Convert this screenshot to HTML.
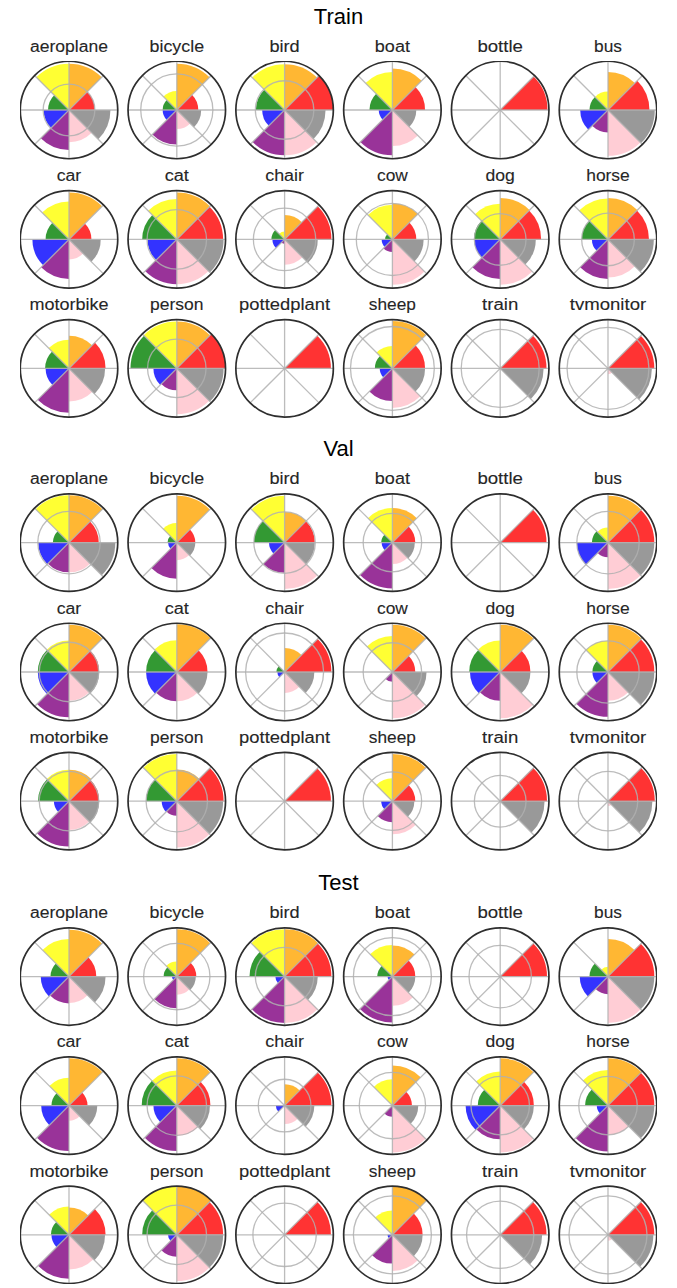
<!DOCTYPE html><html><head><meta charset="utf-8"><style>html,body{margin:0;padding:0;background:#fff;overflow:hidden;}svg{display:block;}text{font-family:"Liberation Sans",sans-serif;}</style></head><body>
<svg width="677" height="1288" viewBox="0 0 677 1288">
<defs><filter id="b" x="0" y="0" width="100%" height="100%"><feGaussianBlur stdDeviation="0.4"/></filter></defs>
<rect width="677" height="1288" fill="#fff"/>
<g filter="url(#b)">
<path d="M69.00,110.00L94.84,110.00A25.84,25.84 0 0 0 87.27,91.73Z" fill="red" fill-opacity="0.8"/><path d="M69.00,110.00L101.75,77.25A46.31,46.31 0 0 0 69.00,63.69Z" fill="orange" fill-opacity="0.8"/><path d="M69.00,110.00L69.00,63.69A46.31,46.31 0 0 0 36.25,77.25Z" fill="yellow" fill-opacity="0.8"/><path d="M69.00,110.00L54.18,95.18A20.96,20.96 0 0 0 48.04,110.00Z" fill="green" fill-opacity="0.8"/><path d="M69.00,110.00L43.65,110.00A25.35,25.35 0 0 0 51.07,127.93Z" fill="blue" fill-opacity="0.8"/><path d="M69.00,110.00L40.73,138.27A39.97,39.97 0 0 0 69.00,149.97Z" fill="purple" fill-opacity="0.8"/><path d="M69.00,110.00L69.00,142.18A32.18,32.18 0 0 0 91.75,132.75Z" fill="pink" fill-opacity="0.8"/><path d="M69.00,110.00L98.30,139.30A41.44,41.44 0 0 0 110.44,110.00Z" fill="gray" fill-opacity="0.8"/><circle cx="69.00" cy="110.00" r="25.84" fill="none" stroke="#b0b0b0" stroke-width="1.3" stroke-opacity="0.85"/><line x1="20.25" y1="110.00" x2="117.75" y2="110.00" stroke="#b0b0b0" stroke-width="1.3" stroke-opacity="0.85"/><line x1="34.53" y1="144.47" x2="103.47" y2="75.53" stroke="#b0b0b0" stroke-width="1.3" stroke-opacity="0.85"/><line x1="69.00" y1="158.75" x2="69.00" y2="61.25" stroke="#b0b0b0" stroke-width="1.3" stroke-opacity="0.85"/><line x1="103.47" y1="144.47" x2="34.53" y2="75.53" stroke="#b0b0b0" stroke-width="1.3" stroke-opacity="0.85"/><circle cx="69.00" cy="110.00" r="48.75" fill="none" stroke="#2e2e2e" stroke-width="1.7"/>
<path d="M176.80,110.00L198.25,110.00A21.45,21.45 0 0 0 191.97,94.83Z" fill="red" fill-opacity="0.8"/><path d="M176.80,110.00L209.55,77.25A46.31,46.31 0 0 0 176.80,63.69Z" fill="orange" fill-opacity="0.8"/><path d="M176.80,110.00L176.80,90.99A19.01,19.01 0 0 0 163.36,96.56Z" fill="yellow" fill-opacity="0.8"/><path d="M176.80,110.00L166.80,100.00A14.14,14.14 0 0 0 162.66,110.00Z" fill="green" fill-opacity="0.8"/><path d="M176.80,110.00L162.66,110.00A14.14,14.14 0 0 0 166.80,120.00Z" fill="blue" fill-opacity="0.8"/><path d="M176.80,110.00L152.33,134.47A34.61,34.61 0 0 0 176.80,144.61Z" fill="purple" fill-opacity="0.8"/><path d="M176.80,110.00L176.80,129.01A19.01,19.01 0 0 0 190.24,123.44Z" fill="pink" fill-opacity="0.8"/><path d="M176.80,110.00L194.04,127.24A24.38,24.38 0 0 0 201.18,110.00Z" fill="gray" fill-opacity="0.8"/><circle cx="176.80" cy="110.00" r="36.08" fill="none" stroke="#b0b0b0" stroke-width="1.3" stroke-opacity="0.85"/><line x1="128.05" y1="110.00" x2="225.55" y2="110.00" stroke="#b0b0b0" stroke-width="1.3" stroke-opacity="0.85"/><line x1="142.33" y1="144.47" x2="211.27" y2="75.53" stroke="#b0b0b0" stroke-width="1.3" stroke-opacity="0.85"/><line x1="176.80" y1="158.75" x2="176.80" y2="61.25" stroke="#b0b0b0" stroke-width="1.3" stroke-opacity="0.85"/><line x1="211.27" y1="144.47" x2="142.33" y2="75.53" stroke="#b0b0b0" stroke-width="1.3" stroke-opacity="0.85"/><circle cx="176.80" cy="110.00" r="48.75" fill="none" stroke="#2e2e2e" stroke-width="1.7"/>
<path d="M284.60,110.00L333.35,110.00A48.75,48.75 0 0 0 319.07,75.53Z" fill="red" fill-opacity="0.8"/><path d="M284.60,110.00L317.00,77.60A45.82,45.82 0 0 0 284.60,64.18Z" fill="orange" fill-opacity="0.8"/><path d="M284.60,110.00L284.60,64.18A45.82,45.82 0 0 0 252.20,77.60Z" fill="yellow" fill-opacity="0.8"/><path d="M284.60,110.00L264.26,89.66A28.76,28.76 0 0 0 255.84,110.00Z" fill="green" fill-opacity="0.8"/><path d="M284.60,110.00L262.18,110.00A22.43,22.43 0 0 0 268.74,125.86Z" fill="blue" fill-opacity="0.8"/><path d="M284.60,110.00L252.54,142.06A45.34,45.34 0 0 0 284.60,155.34Z" fill="purple" fill-opacity="0.8"/><path d="M284.60,110.00L284.60,155.34A45.34,45.34 0 0 0 316.66,142.06Z" fill="pink" fill-opacity="0.8"/><path d="M284.60,110.00L313.56,138.96A40.95,40.95 0 0 0 325.55,110.00Z" fill="gray" fill-opacity="0.8"/><circle cx="284.60" cy="110.00" r="29.25" fill="none" stroke="#b0b0b0" stroke-width="1.3" stroke-opacity="0.85"/><line x1="235.85" y1="110.00" x2="333.35" y2="110.00" stroke="#b0b0b0" stroke-width="1.3" stroke-opacity="0.85"/><line x1="250.13" y1="144.47" x2="319.07" y2="75.53" stroke="#b0b0b0" stroke-width="1.3" stroke-opacity="0.85"/><line x1="284.60" y1="158.75" x2="284.60" y2="61.25" stroke="#b0b0b0" stroke-width="1.3" stroke-opacity="0.85"/><line x1="319.07" y1="144.47" x2="250.13" y2="75.53" stroke="#b0b0b0" stroke-width="1.3" stroke-opacity="0.85"/><circle cx="284.60" cy="110.00" r="48.75" fill="none" stroke="#2e2e2e" stroke-width="1.7"/>
<path d="M392.40,110.00L425.06,110.00A32.66,32.66 0 0 0 415.50,86.90Z" fill="red" fill-opacity="0.8"/><path d="M392.40,110.00L421.70,80.70A41.44,41.44 0 0 0 392.40,68.56Z" fill="orange" fill-opacity="0.8"/><path d="M392.40,110.00L392.40,71.97A38.02,38.02 0 0 0 365.51,83.11Z" fill="yellow" fill-opacity="0.8"/><path d="M392.40,110.00L376.20,93.80A22.91,22.91 0 0 0 369.49,110.00Z" fill="green" fill-opacity="0.8"/><path d="M392.40,110.00L378.75,110.00A13.65,13.65 0 0 0 382.75,119.65Z" fill="blue" fill-opacity="0.8"/><path d="M392.40,110.00L360.34,142.06A45.34,45.34 0 0 0 392.40,155.34Z" fill="purple" fill-opacity="0.8"/><path d="M392.40,110.00L392.40,146.07A36.08,36.08 0 0 0 417.91,135.51Z" fill="pink" fill-opacity="0.8"/><path d="M392.40,110.00L409.29,126.89A23.89,23.89 0 0 0 416.29,110.00Z" fill="gray" fill-opacity="0.8"/><line x1="343.65" y1="110.00" x2="441.15" y2="110.00" stroke="#b0b0b0" stroke-width="1.3" stroke-opacity="0.85"/><line x1="357.93" y1="144.47" x2="426.87" y2="75.53" stroke="#b0b0b0" stroke-width="1.3" stroke-opacity="0.85"/><line x1="392.40" y1="158.75" x2="392.40" y2="61.25" stroke="#b0b0b0" stroke-width="1.3" stroke-opacity="0.85"/><line x1="426.87" y1="144.47" x2="357.93" y2="75.53" stroke="#b0b0b0" stroke-width="1.3" stroke-opacity="0.85"/><circle cx="392.40" cy="110.00" r="48.75" fill="none" stroke="#2e2e2e" stroke-width="1.7"/>
<path d="M500.20,110.00L547.49,110.00A47.29,47.29 0 0 0 533.64,76.56Z" fill="red" fill-opacity="0.8"/><line x1="451.45" y1="110.00" x2="548.95" y2="110.00" stroke="#b0b0b0" stroke-width="1.3" stroke-opacity="0.85"/><line x1="465.73" y1="144.47" x2="534.67" y2="75.53" stroke="#b0b0b0" stroke-width="1.3" stroke-opacity="0.85"/><line x1="500.20" y1="158.75" x2="500.20" y2="61.25" stroke="#b0b0b0" stroke-width="1.3" stroke-opacity="0.85"/><line x1="534.67" y1="144.47" x2="465.73" y2="75.53" stroke="#b0b0b0" stroke-width="1.3" stroke-opacity="0.85"/><circle cx="500.20" cy="110.00" r="48.75" fill="none" stroke="#2e2e2e" stroke-width="1.7"/>
<path d="M608.00,110.00L649.44,110.00A41.44,41.44 0 0 0 637.30,80.70Z" fill="red" fill-opacity="0.8"/><path d="M608.00,110.00L634.89,83.11A38.02,38.02 0 0 0 608.00,71.97Z" fill="orange" fill-opacity="0.8"/><path d="M608.00,110.00L608.00,91.47A18.52,18.52 0 0 0 594.90,96.90Z" fill="yellow" fill-opacity="0.8"/><path d="M608.00,110.00L594.90,96.90A18.52,18.52 0 0 0 589.48,110.00Z" fill="green" fill-opacity="0.8"/><path d="M608.00,110.00L580.21,110.00A27.79,27.79 0 0 0 588.35,129.65Z" fill="blue" fill-opacity="0.8"/><path d="M608.00,110.00L592.14,125.86A22.43,22.43 0 0 0 608.00,132.43Z" fill="purple" fill-opacity="0.8"/><path d="M608.00,110.00L608.00,155.82A45.82,45.82 0 0 0 640.40,142.40Z" fill="pink" fill-opacity="0.8"/><path d="M608.00,110.00L641.09,143.09A46.80,46.80 0 0 0 654.80,110.00Z" fill="gray" fill-opacity="0.8"/><line x1="559.25" y1="110.00" x2="656.75" y2="110.00" stroke="#b0b0b0" stroke-width="1.3" stroke-opacity="0.85"/><line x1="573.53" y1="144.47" x2="642.47" y2="75.53" stroke="#b0b0b0" stroke-width="1.3" stroke-opacity="0.85"/><line x1="608.00" y1="158.75" x2="608.00" y2="61.25" stroke="#b0b0b0" stroke-width="1.3" stroke-opacity="0.85"/><line x1="642.47" y1="144.47" x2="573.53" y2="75.53" stroke="#b0b0b0" stroke-width="1.3" stroke-opacity="0.85"/><circle cx="608.00" cy="110.00" r="48.75" fill="none" stroke="#2e2e2e" stroke-width="1.7"/>
<path d="M69.00,239.40L91.42,239.40A22.43,22.43 0 0 0 84.86,223.54Z" fill="red" fill-opacity="0.8"/><path d="M69.00,239.40L102.09,206.31A46.80,46.80 0 0 0 69.00,192.60Z" fill="orange" fill-opacity="0.8"/><path d="M69.00,239.40L69.00,201.38A38.02,38.02 0 0 0 42.11,212.51Z" fill="yellow" fill-opacity="0.8"/><path d="M69.00,239.40L52.45,222.85A23.40,23.40 0 0 0 45.60,239.40Z" fill="green" fill-opacity="0.8"/><path d="M69.00,239.40L32.44,239.40A36.56,36.56 0 0 0 43.15,265.25Z" fill="blue" fill-opacity="0.8"/><path d="M69.00,239.40L41.08,267.32A39.49,39.49 0 0 0 69.00,278.89Z" fill="purple" fill-opacity="0.8"/><path d="M69.00,239.40L69.00,259.39A19.99,19.99 0 0 0 83.13,253.53Z" fill="pink" fill-opacity="0.8"/><path d="M69.00,239.40L91.41,261.81A31.69,31.69 0 0 0 100.69,239.40Z" fill="gray" fill-opacity="0.8"/><line x1="20.25" y1="239.40" x2="117.75" y2="239.40" stroke="#b0b0b0" stroke-width="1.3" stroke-opacity="0.85"/><line x1="34.53" y1="273.87" x2="103.47" y2="204.93" stroke="#b0b0b0" stroke-width="1.3" stroke-opacity="0.85"/><line x1="69.00" y1="288.15" x2="69.00" y2="190.65" stroke="#b0b0b0" stroke-width="1.3" stroke-opacity="0.85"/><line x1="103.47" y1="273.87" x2="34.53" y2="204.93" stroke="#b0b0b0" stroke-width="1.3" stroke-opacity="0.85"/><circle cx="69.00" cy="239.40" r="48.75" fill="none" stroke="#2e2e2e" stroke-width="1.7"/>
<path d="M176.80,239.40L223.11,239.40A46.31,46.31 0 0 0 209.55,206.65Z" fill="red" fill-opacity="0.8"/><path d="M176.80,239.40L209.89,206.31A46.80,46.80 0 0 0 176.80,192.60Z" fill="orange" fill-opacity="0.8"/><path d="M176.80,239.40L176.80,198.94A40.46,40.46 0 0 0 148.19,210.79Z" fill="yellow" fill-opacity="0.8"/><path d="M176.80,239.40L152.33,214.93A34.61,34.61 0 0 0 142.19,239.40Z" fill="green" fill-opacity="0.8"/><path d="M176.80,239.40L147.55,239.40A29.25,29.25 0 0 0 156.12,260.08Z" fill="blue" fill-opacity="0.8"/><path d="M176.80,239.40L145.09,271.11A44.85,44.85 0 0 0 176.80,284.25Z" fill="purple" fill-opacity="0.8"/><path d="M176.80,239.40L176.80,284.25A44.85,44.85 0 0 0 208.51,271.11Z" fill="pink" fill-opacity="0.8"/><path d="M176.80,239.40L209.89,272.49A46.80,46.80 0 0 0 223.60,239.40Z" fill="gray" fill-opacity="0.8"/><circle cx="176.80" cy="239.40" r="29.74" fill="none" stroke="#b0b0b0" stroke-width="1.3" stroke-opacity="0.85"/><line x1="128.05" y1="239.40" x2="225.55" y2="239.40" stroke="#b0b0b0" stroke-width="1.3" stroke-opacity="0.85"/><line x1="142.33" y1="273.87" x2="211.27" y2="204.93" stroke="#b0b0b0" stroke-width="1.3" stroke-opacity="0.85"/><line x1="176.80" y1="288.15" x2="176.80" y2="190.65" stroke="#b0b0b0" stroke-width="1.3" stroke-opacity="0.85"/><line x1="211.27" y1="273.87" x2="142.33" y2="204.93" stroke="#b0b0b0" stroke-width="1.3" stroke-opacity="0.85"/><circle cx="176.80" cy="239.40" r="48.75" fill="none" stroke="#2e2e2e" stroke-width="1.7"/>
<path d="M284.60,239.40L331.40,239.40A46.80,46.80 0 0 0 317.69,206.31Z" fill="red" fill-opacity="0.8"/><path d="M284.60,239.40L301.84,222.16A24.38,24.38 0 0 0 284.60,215.03Z" fill="orange" fill-opacity="0.8"/><path d="M284.60,239.40L284.60,231.60A7.80,7.80 0 0 0 279.08,233.88Z" fill="yellow" fill-opacity="0.8"/><path d="M284.60,239.40L275.29,230.09A13.16,13.16 0 0 0 271.44,239.40Z" fill="green" fill-opacity="0.8"/><path d="M284.60,239.40L272.41,239.40A12.19,12.19 0 0 0 275.98,248.02Z" fill="blue" fill-opacity="0.8"/><path d="M284.60,239.40L281.50,242.50A4.39,4.39 0 0 0 284.60,243.79Z" fill="purple" fill-opacity="0.8"/><path d="M284.60,239.40L284.60,264.75A25.35,25.35 0 0 0 302.53,257.33Z" fill="pink" fill-opacity="0.8"/><path d="M284.60,239.40L308.04,262.84A33.15,33.15 0 0 0 317.75,239.40Z" fill="gray" fill-opacity="0.8"/><circle cx="284.60" cy="239.40" r="31.20" fill="none" stroke="#b0b0b0" stroke-width="1.3" stroke-opacity="0.85"/><line x1="235.85" y1="239.40" x2="333.35" y2="239.40" stroke="#b0b0b0" stroke-width="1.3" stroke-opacity="0.85"/><line x1="250.13" y1="273.87" x2="319.07" y2="204.93" stroke="#b0b0b0" stroke-width="1.3" stroke-opacity="0.85"/><line x1="284.60" y1="288.15" x2="284.60" y2="190.65" stroke="#b0b0b0" stroke-width="1.3" stroke-opacity="0.85"/><line x1="319.07" y1="273.87" x2="250.13" y2="204.93" stroke="#b0b0b0" stroke-width="1.3" stroke-opacity="0.85"/><circle cx="284.60" cy="239.40" r="48.75" fill="none" stroke="#2e2e2e" stroke-width="1.7"/>
<path d="M392.40,239.40L416.29,239.40A23.89,23.89 0 0 0 409.29,222.51Z" fill="red" fill-opacity="0.8"/><path d="M392.40,239.40L417.91,213.89A36.08,36.08 0 0 0 392.40,203.32Z" fill="orange" fill-opacity="0.8"/><path d="M392.40,239.40L392.40,204.79A34.61,34.61 0 0 0 367.93,214.93Z" fill="yellow" fill-opacity="0.8"/><path d="M392.40,239.40L387.23,234.23A7.31,7.31 0 0 0 385.09,239.40Z" fill="green" fill-opacity="0.8"/><path d="M392.40,239.40L381.67,239.40A10.72,10.72 0 0 0 384.82,246.98Z" fill="blue" fill-opacity="0.8"/><path d="M392.40,239.40L383.44,248.36A12.68,12.68 0 0 0 392.40,252.08Z" fill="purple" fill-opacity="0.8"/><path d="M392.40,239.40L392.40,284.74A45.34,45.34 0 0 0 424.46,271.46Z" fill="pink" fill-opacity="0.8"/><path d="M392.40,239.40L414.46,261.46A31.20,31.20 0 0 0 423.60,239.40Z" fill="gray" fill-opacity="0.8"/><circle cx="392.40" cy="239.40" r="36.08" fill="none" stroke="#b0b0b0" stroke-width="1.3" stroke-opacity="0.85"/><line x1="343.65" y1="239.40" x2="441.15" y2="239.40" stroke="#b0b0b0" stroke-width="1.3" stroke-opacity="0.85"/><line x1="357.93" y1="273.87" x2="426.87" y2="204.93" stroke="#b0b0b0" stroke-width="1.3" stroke-opacity="0.85"/><line x1="392.40" y1="288.15" x2="392.40" y2="190.65" stroke="#b0b0b0" stroke-width="1.3" stroke-opacity="0.85"/><line x1="426.87" y1="273.87" x2="357.93" y2="204.93" stroke="#b0b0b0" stroke-width="1.3" stroke-opacity="0.85"/><circle cx="392.40" cy="239.40" r="48.75" fill="none" stroke="#2e2e2e" stroke-width="1.7"/>
<path d="M500.20,239.40L541.15,239.40A40.95,40.95 0 0 0 529.16,210.44Z" fill="red" fill-opacity="0.8"/><path d="M500.20,239.40L529.50,210.10A41.44,41.44 0 0 0 500.20,197.96Z" fill="orange" fill-opacity="0.8"/><path d="M500.20,239.40L500.20,203.81A35.59,35.59 0 0 0 475.04,214.24Z" fill="yellow" fill-opacity="0.8"/><path d="M500.20,239.40L481.59,220.79A26.33,26.33 0 0 0 473.88,239.40Z" fill="green" fill-opacity="0.8"/><path d="M500.20,239.40L474.36,239.40A25.84,25.84 0 0 0 481.93,257.67Z" fill="blue" fill-opacity="0.8"/><path d="M500.20,239.40L472.28,267.32A39.49,39.49 0 0 0 500.20,278.89Z" fill="purple" fill-opacity="0.8"/><path d="M500.20,239.40L500.20,284.74A45.34,45.34 0 0 0 532.26,271.46Z" fill="pink" fill-opacity="0.8"/><path d="M500.20,239.40L525.36,264.56A35.59,35.59 0 0 0 535.79,239.40Z" fill="gray" fill-opacity="0.8"/><circle cx="500.20" cy="239.40" r="25.84" fill="none" stroke="#b0b0b0" stroke-width="1.3" stroke-opacity="0.85"/><line x1="451.45" y1="239.40" x2="548.95" y2="239.40" stroke="#b0b0b0" stroke-width="1.3" stroke-opacity="0.85"/><line x1="465.73" y1="273.87" x2="534.67" y2="204.93" stroke="#b0b0b0" stroke-width="1.3" stroke-opacity="0.85"/><line x1="500.20" y1="288.15" x2="500.20" y2="190.65" stroke="#b0b0b0" stroke-width="1.3" stroke-opacity="0.85"/><line x1="534.67" y1="273.87" x2="465.73" y2="204.93" stroke="#b0b0b0" stroke-width="1.3" stroke-opacity="0.85"/><circle cx="500.20" cy="239.40" r="48.75" fill="none" stroke="#2e2e2e" stroke-width="1.7"/>
<path d="M608.00,239.40L648.95,239.40A40.95,40.95 0 0 0 636.96,210.44Z" fill="red" fill-opacity="0.8"/><path d="M608.00,239.40L637.30,210.10A41.44,41.44 0 0 0 608.00,197.96Z" fill="orange" fill-opacity="0.8"/><path d="M608.00,239.40L608.00,198.45A40.95,40.95 0 0 0 579.04,210.44Z" fill="yellow" fill-opacity="0.8"/><path d="M608.00,239.40L589.39,220.79A26.33,26.33 0 0 0 581.67,239.40Z" fill="green" fill-opacity="0.8"/><path d="M608.00,239.40L591.91,239.40A16.09,16.09 0 0 0 596.62,250.78Z" fill="blue" fill-opacity="0.8"/><path d="M608.00,239.40L580.08,267.32A39.49,39.49 0 0 0 608.00,278.89Z" fill="purple" fill-opacity="0.8"/><path d="M608.00,239.40L608.00,277.43A38.02,38.02 0 0 0 634.89,266.29Z" fill="pink" fill-opacity="0.8"/><path d="M608.00,239.40L640.40,271.80A45.82,45.82 0 0 0 653.83,239.40Z" fill="gray" fill-opacity="0.8"/><circle cx="608.00" cy="239.40" r="26.33" fill="none" stroke="#b0b0b0" stroke-width="1.3" stroke-opacity="0.85"/><line x1="559.25" y1="239.40" x2="656.75" y2="239.40" stroke="#b0b0b0" stroke-width="1.3" stroke-opacity="0.85"/><line x1="573.53" y1="273.87" x2="642.47" y2="204.93" stroke="#b0b0b0" stroke-width="1.3" stroke-opacity="0.85"/><line x1="608.00" y1="288.15" x2="608.00" y2="190.65" stroke="#b0b0b0" stroke-width="1.3" stroke-opacity="0.85"/><line x1="642.47" y1="273.87" x2="573.53" y2="204.93" stroke="#b0b0b0" stroke-width="1.3" stroke-opacity="0.85"/><circle cx="608.00" cy="239.40" r="48.75" fill="none" stroke="#2e2e2e" stroke-width="1.7"/>
<path d="M69.00,368.40L105.56,368.40A36.56,36.56 0 0 0 94.85,342.55Z" fill="red" fill-opacity="0.8"/><path d="M69.00,368.40L92.10,345.30A32.66,32.66 0 0 0 69.00,335.74Z" fill="orange" fill-opacity="0.8"/><path d="M69.00,368.40L69.00,339.64A28.76,28.76 0 0 0 48.66,348.06Z" fill="yellow" fill-opacity="0.8"/><path d="M69.00,368.40L52.11,351.51A23.89,23.89 0 0 0 45.11,368.40Z" fill="green" fill-opacity="0.8"/><path d="M69.00,368.40L45.60,368.40A23.40,23.40 0 0 0 52.45,384.95Z" fill="blue" fill-opacity="0.8"/><path d="M69.00,368.40L37.63,399.77A44.36,44.36 0 0 0 69.00,412.76Z" fill="purple" fill-opacity="0.8"/><path d="M69.00,368.40L69.00,401.55A33.15,33.15 0 0 0 92.44,391.84Z" fill="pink" fill-opacity="0.8"/><path d="M69.00,368.40L94.51,393.91A36.08,36.08 0 0 0 105.08,368.40Z" fill="gray" fill-opacity="0.8"/><line x1="20.25" y1="368.40" x2="117.75" y2="368.40" stroke="#b0b0b0" stroke-width="1.3" stroke-opacity="0.85"/><line x1="34.53" y1="402.87" x2="103.47" y2="333.93" stroke="#b0b0b0" stroke-width="1.3" stroke-opacity="0.85"/><line x1="69.00" y1="417.15" x2="69.00" y2="319.65" stroke="#b0b0b0" stroke-width="1.3" stroke-opacity="0.85"/><line x1="103.47" y1="402.87" x2="34.53" y2="333.93" stroke="#b0b0b0" stroke-width="1.3" stroke-opacity="0.85"/><circle cx="69.00" cy="368.40" r="48.75" fill="none" stroke="#2e2e2e" stroke-width="1.7"/>
<path d="M176.80,368.40L225.55,368.40A48.75,48.75 0 0 0 211.27,333.93Z" fill="red" fill-opacity="0.8"/><path d="M176.80,368.40L209.89,335.31A46.80,46.80 0 0 0 176.80,321.60Z" fill="orange" fill-opacity="0.8"/><path d="M176.80,368.40L176.80,321.60A46.80,46.80 0 0 0 143.71,335.31Z" fill="yellow" fill-opacity="0.8"/><path d="M176.80,368.40L144.05,335.65A46.31,46.31 0 0 0 130.49,368.40Z" fill="green" fill-opacity="0.8"/><path d="M176.80,368.40L153.40,368.40A23.40,23.40 0 0 0 160.25,384.95Z" fill="blue" fill-opacity="0.8"/><path d="M176.80,368.40L161.29,383.91A21.94,21.94 0 0 0 176.80,390.34Z" fill="purple" fill-opacity="0.8"/><path d="M176.80,368.40L176.80,414.22A45.82,45.82 0 0 0 209.20,400.80Z" fill="pink" fill-opacity="0.8"/><path d="M176.80,368.40L209.89,401.49A46.80,46.80 0 0 0 223.60,368.40Z" fill="gray" fill-opacity="0.8"/><circle cx="176.80" cy="368.40" r="29.25" fill="none" stroke="#b0b0b0" stroke-width="1.3" stroke-opacity="0.85"/><line x1="128.05" y1="368.40" x2="225.55" y2="368.40" stroke="#b0b0b0" stroke-width="1.3" stroke-opacity="0.85"/><line x1="142.33" y1="402.87" x2="211.27" y2="333.93" stroke="#b0b0b0" stroke-width="1.3" stroke-opacity="0.85"/><line x1="176.80" y1="417.15" x2="176.80" y2="319.65" stroke="#b0b0b0" stroke-width="1.3" stroke-opacity="0.85"/><line x1="211.27" y1="402.87" x2="142.33" y2="333.93" stroke="#b0b0b0" stroke-width="1.3" stroke-opacity="0.85"/><circle cx="176.80" cy="368.40" r="48.75" fill="none" stroke="#2e2e2e" stroke-width="1.7"/>
<path d="M284.60,368.40L330.91,368.40A46.31,46.31 0 0 0 317.35,335.65Z" fill="red" fill-opacity="0.8"/><line x1="235.85" y1="368.40" x2="333.35" y2="368.40" stroke="#b0b0b0" stroke-width="1.3" stroke-opacity="0.85"/><line x1="250.13" y1="402.87" x2="319.07" y2="333.93" stroke="#b0b0b0" stroke-width="1.3" stroke-opacity="0.85"/><line x1="284.60" y1="417.15" x2="284.60" y2="319.65" stroke="#b0b0b0" stroke-width="1.3" stroke-opacity="0.85"/><line x1="319.07" y1="402.87" x2="250.13" y2="333.93" stroke="#b0b0b0" stroke-width="1.3" stroke-opacity="0.85"/><circle cx="284.60" cy="368.40" r="48.75" fill="none" stroke="#2e2e2e" stroke-width="1.7"/>
<path d="M392.40,368.40L425.06,368.40A32.66,32.66 0 0 0 415.50,345.30Z" fill="red" fill-opacity="0.8"/><path d="M392.40,368.40L425.84,334.96A47.29,47.29 0 0 0 392.40,321.11Z" fill="orange" fill-opacity="0.8"/><path d="M392.40,368.40L392.40,345.97A22.43,22.43 0 0 0 376.54,352.54Z" fill="yellow" fill-opacity="0.8"/><path d="M392.40,368.40L379.99,355.99A17.55,17.55 0 0 0 374.85,368.40Z" fill="green" fill-opacity="0.8"/><path d="M392.40,368.40L379.72,368.40A12.68,12.68 0 0 0 383.44,377.36Z" fill="blue" fill-opacity="0.8"/><path d="M392.40,368.40L369.30,391.50A32.66,32.66 0 0 0 392.40,401.06Z" fill="purple" fill-opacity="0.8"/><path d="M392.40,368.40L392.40,407.89A39.49,39.49 0 0 0 420.32,396.32Z" fill="pink" fill-opacity="0.8"/><path d="M392.40,368.40L415.50,391.50A32.66,32.66 0 0 0 425.06,368.40Z" fill="gray" fill-opacity="0.8"/><circle cx="392.40" cy="368.40" r="41.92" fill="none" stroke="#b0b0b0" stroke-width="1.3" stroke-opacity="0.85"/><line x1="343.65" y1="368.40" x2="441.15" y2="368.40" stroke="#b0b0b0" stroke-width="1.3" stroke-opacity="0.85"/><line x1="357.93" y1="402.87" x2="426.87" y2="333.93" stroke="#b0b0b0" stroke-width="1.3" stroke-opacity="0.85"/><line x1="392.40" y1="417.15" x2="392.40" y2="319.65" stroke="#b0b0b0" stroke-width="1.3" stroke-opacity="0.85"/><line x1="426.87" y1="402.87" x2="357.93" y2="333.93" stroke="#b0b0b0" stroke-width="1.3" stroke-opacity="0.85"/><circle cx="392.40" cy="368.40" r="48.75" fill="none" stroke="#2e2e2e" stroke-width="1.7"/>
<path d="M500.20,368.40L546.51,368.40A46.31,46.31 0 0 0 532.95,335.65Z" fill="red" fill-opacity="0.8"/><path d="M500.20,368.40L501.58,367.02A1.95,1.95 0 0 0 500.20,366.45Z" fill="orange" fill-opacity="0.8"/><path d="M500.20,368.40L530.88,399.08A43.39,43.39 0 0 0 543.59,368.40Z" fill="gray" fill-opacity="0.8"/><circle cx="500.20" cy="368.40" r="39.00" fill="none" stroke="#b0b0b0" stroke-width="1.3" stroke-opacity="0.85"/><line x1="451.45" y1="368.40" x2="548.95" y2="368.40" stroke="#b0b0b0" stroke-width="1.3" stroke-opacity="0.85"/><line x1="465.73" y1="402.87" x2="534.67" y2="333.93" stroke="#b0b0b0" stroke-width="1.3" stroke-opacity="0.85"/><line x1="500.20" y1="417.15" x2="500.20" y2="319.65" stroke="#b0b0b0" stroke-width="1.3" stroke-opacity="0.85"/><line x1="534.67" y1="402.87" x2="465.73" y2="333.93" stroke="#b0b0b0" stroke-width="1.3" stroke-opacity="0.85"/><circle cx="500.20" cy="368.40" r="48.75" fill="none" stroke="#2e2e2e" stroke-width="1.7"/>
<path d="M608.00,368.40L654.31,368.40A46.31,46.31 0 0 0 640.75,335.65Z" fill="red" fill-opacity="0.8"/><path d="M608.00,368.40L608.00,374.25A5.85,5.85 0 0 0 612.14,372.54Z" fill="pink" fill-opacity="0.8"/><path d="M608.00,368.40L639.02,399.42A43.88,43.88 0 0 0 651.88,368.40Z" fill="gray" fill-opacity="0.8"/><circle cx="608.00" cy="368.40" r="40.95" fill="none" stroke="#b0b0b0" stroke-width="1.3" stroke-opacity="0.85"/><line x1="559.25" y1="368.40" x2="656.75" y2="368.40" stroke="#b0b0b0" stroke-width="1.3" stroke-opacity="0.85"/><line x1="573.53" y1="402.87" x2="642.47" y2="333.93" stroke="#b0b0b0" stroke-width="1.3" stroke-opacity="0.85"/><line x1="608.00" y1="417.15" x2="608.00" y2="319.65" stroke="#b0b0b0" stroke-width="1.3" stroke-opacity="0.85"/><line x1="642.47" y1="402.87" x2="573.53" y2="333.93" stroke="#b0b0b0" stroke-width="1.3" stroke-opacity="0.85"/><circle cx="608.00" cy="368.40" r="48.75" fill="none" stroke="#2e2e2e" stroke-width="1.7"/>
<path d="M69.00,542.60L98.74,542.60A29.74,29.74 0 0 0 90.03,521.57Z" fill="red" fill-opacity="0.8"/><path d="M69.00,542.60L102.44,509.16A47.29,47.29 0 0 0 69.00,495.31Z" fill="orange" fill-opacity="0.8"/><path d="M69.00,542.60L69.00,495.31A47.29,47.29 0 0 0 35.56,509.16Z" fill="yellow" fill-opacity="0.8"/><path d="M69.00,542.60L57.62,531.22A16.09,16.09 0 0 0 52.91,542.60Z" fill="green" fill-opacity="0.8"/><path d="M69.00,542.60L38.29,542.60A30.71,30.71 0 0 0 47.28,564.32Z" fill="blue" fill-opacity="0.8"/><path d="M69.00,542.60L47.97,563.63A29.74,29.74 0 0 0 69.00,572.34Z" fill="purple" fill-opacity="0.8"/><path d="M69.00,542.60L69.00,572.34A29.74,29.74 0 0 0 90.03,563.63Z" fill="pink" fill-opacity="0.8"/><path d="M69.00,542.60L101.75,575.35A46.31,46.31 0 0 0 115.31,542.60Z" fill="gray" fill-opacity="0.8"/><circle cx="69.00" cy="542.60" r="31.20" fill="none" stroke="#b0b0b0" stroke-width="1.3" stroke-opacity="0.85"/><line x1="20.25" y1="542.60" x2="117.75" y2="542.60" stroke="#b0b0b0" stroke-width="1.3" stroke-opacity="0.85"/><line x1="34.53" y1="577.07" x2="103.47" y2="508.13" stroke="#b0b0b0" stroke-width="1.3" stroke-opacity="0.85"/><line x1="69.00" y1="591.35" x2="69.00" y2="493.85" stroke="#b0b0b0" stroke-width="1.3" stroke-opacity="0.85"/><line x1="103.47" y1="577.07" x2="34.53" y2="508.13" stroke="#b0b0b0" stroke-width="1.3" stroke-opacity="0.85"/><circle cx="69.00" cy="542.60" r="48.75" fill="none" stroke="#2e2e2e" stroke-width="1.7"/>
<path d="M176.80,542.60L195.33,542.60A18.52,18.52 0 0 0 189.90,529.50Z" fill="red" fill-opacity="0.8"/><path d="M176.80,542.60L209.89,509.51A46.80,46.80 0 0 0 176.80,495.80Z" fill="orange" fill-opacity="0.8"/><path d="M176.80,542.60L176.80,523.10A19.50,19.50 0 0 0 163.01,528.81Z" fill="yellow" fill-opacity="0.8"/><path d="M176.80,542.60L170.25,536.05A9.26,9.26 0 0 0 167.54,542.60Z" fill="green" fill-opacity="0.8"/><path d="M176.80,542.60L168.03,542.60A8.78,8.78 0 0 0 170.60,548.80Z" fill="blue" fill-opacity="0.8"/><path d="M176.80,542.60L151.29,568.11A36.08,36.08 0 0 0 176.80,578.68Z" fill="purple" fill-opacity="0.8"/><path d="M176.80,542.60L176.80,560.15A17.55,17.55 0 0 0 189.21,555.01Z" fill="pink" fill-opacity="0.8"/><path d="M176.80,542.60L189.90,555.70A18.52,18.52 0 0 0 195.33,542.60Z" fill="gray" fill-opacity="0.8"/><line x1="128.05" y1="542.60" x2="225.55" y2="542.60" stroke="#b0b0b0" stroke-width="1.3" stroke-opacity="0.85"/><line x1="142.33" y1="577.07" x2="211.27" y2="508.13" stroke="#b0b0b0" stroke-width="1.3" stroke-opacity="0.85"/><line x1="176.80" y1="591.35" x2="176.80" y2="493.85" stroke="#b0b0b0" stroke-width="1.3" stroke-opacity="0.85"/><line x1="211.27" y1="577.07" x2="142.33" y2="508.13" stroke="#b0b0b0" stroke-width="1.3" stroke-opacity="0.85"/><circle cx="176.80" cy="542.60" r="48.75" fill="none" stroke="#2e2e2e" stroke-width="1.7"/>
<path d="M284.60,542.60L314.83,542.60A30.23,30.23 0 0 0 305.97,521.23Z" fill="red" fill-opacity="0.8"/><path d="M284.60,542.60L306.32,520.88A30.71,30.71 0 0 0 284.60,511.89Z" fill="orange" fill-opacity="0.8"/><path d="M284.60,542.60L284.60,495.80A46.80,46.80 0 0 0 251.51,509.51Z" fill="yellow" fill-opacity="0.8"/><path d="M284.60,542.60L262.88,520.88A30.71,30.71 0 0 0 253.89,542.60Z" fill="green" fill-opacity="0.8"/><path d="M284.60,542.60L269.00,542.60A15.60,15.60 0 0 0 273.57,553.63Z" fill="blue" fill-opacity="0.8"/><path d="M284.60,542.60L263.23,563.97A30.23,30.23 0 0 0 284.60,572.83Z" fill="purple" fill-opacity="0.8"/><path d="M284.60,542.60L284.60,588.91A46.31,46.31 0 0 0 317.35,575.35Z" fill="pink" fill-opacity="0.8"/><path d="M284.60,542.60L305.97,563.97A30.23,30.23 0 0 0 314.83,542.60Z" fill="gray" fill-opacity="0.8"/><circle cx="284.60" cy="542.60" r="30.71" fill="none" stroke="#b0b0b0" stroke-width="1.3" stroke-opacity="0.85"/><line x1="235.85" y1="542.60" x2="333.35" y2="542.60" stroke="#b0b0b0" stroke-width="1.3" stroke-opacity="0.85"/><line x1="250.13" y1="577.07" x2="319.07" y2="508.13" stroke="#b0b0b0" stroke-width="1.3" stroke-opacity="0.85"/><line x1="284.60" y1="591.35" x2="284.60" y2="493.85" stroke="#b0b0b0" stroke-width="1.3" stroke-opacity="0.85"/><line x1="319.07" y1="577.07" x2="250.13" y2="508.13" stroke="#b0b0b0" stroke-width="1.3" stroke-opacity="0.85"/><circle cx="284.60" cy="542.60" r="48.75" fill="none" stroke="#2e2e2e" stroke-width="1.7"/>
<path d="M392.40,542.60L415.31,542.60A22.91,22.91 0 0 0 408.60,526.40Z" fill="red" fill-opacity="0.8"/><path d="M392.40,542.60L416.87,518.13A34.61,34.61 0 0 0 392.40,507.99Z" fill="orange" fill-opacity="0.8"/><path d="M392.40,542.60L392.40,507.99A34.61,34.61 0 0 0 367.93,518.13Z" fill="yellow" fill-opacity="0.8"/><path d="M392.40,542.60L384.47,534.67A11.21,11.21 0 0 0 381.19,542.60Z" fill="green" fill-opacity="0.8"/><path d="M392.40,542.60L381.67,542.60A10.72,10.72 0 0 0 384.82,550.18Z" fill="blue" fill-opacity="0.8"/><path d="M392.40,542.60L360.00,575.00A45.82,45.82 0 0 0 392.40,588.43Z" fill="purple" fill-opacity="0.8"/><path d="M392.40,542.60L392.40,564.05A21.45,21.45 0 0 0 407.57,557.77Z" fill="pink" fill-opacity="0.8"/><path d="M392.40,542.60L408.26,558.46A22.43,22.43 0 0 0 414.82,542.60Z" fill="gray" fill-opacity="0.8"/><circle cx="392.40" cy="542.60" r="29.25" fill="none" stroke="#b0b0b0" stroke-width="1.3" stroke-opacity="0.85"/><line x1="343.65" y1="542.60" x2="441.15" y2="542.60" stroke="#b0b0b0" stroke-width="1.3" stroke-opacity="0.85"/><line x1="357.93" y1="577.07" x2="426.87" y2="508.13" stroke="#b0b0b0" stroke-width="1.3" stroke-opacity="0.85"/><line x1="392.40" y1="591.35" x2="392.40" y2="493.85" stroke="#b0b0b0" stroke-width="1.3" stroke-opacity="0.85"/><line x1="426.87" y1="577.07" x2="357.93" y2="508.13" stroke="#b0b0b0" stroke-width="1.3" stroke-opacity="0.85"/><circle cx="392.40" cy="542.60" r="48.75" fill="none" stroke="#2e2e2e" stroke-width="1.7"/>
<path d="M500.20,542.60L546.51,542.60A46.31,46.31 0 0 0 532.95,509.85Z" fill="red" fill-opacity="0.8"/><line x1="451.45" y1="542.60" x2="548.95" y2="542.60" stroke="#b0b0b0" stroke-width="1.3" stroke-opacity="0.85"/><line x1="465.73" y1="577.07" x2="534.67" y2="508.13" stroke="#b0b0b0" stroke-width="1.3" stroke-opacity="0.85"/><line x1="500.20" y1="591.35" x2="500.20" y2="493.85" stroke="#b0b0b0" stroke-width="1.3" stroke-opacity="0.85"/><line x1="534.67" y1="577.07" x2="465.73" y2="508.13" stroke="#b0b0b0" stroke-width="1.3" stroke-opacity="0.85"/><circle cx="500.20" cy="542.60" r="48.75" fill="none" stroke="#2e2e2e" stroke-width="1.7"/>
<path d="M608.00,542.60L654.31,542.60A46.31,46.31 0 0 0 640.75,509.85Z" fill="red" fill-opacity="0.8"/><path d="M608.00,542.60L641.09,509.51A46.80,46.80 0 0 0 608.00,495.80Z" fill="orange" fill-opacity="0.8"/><path d="M608.00,542.60L608.00,527.49A15.11,15.11 0 0 0 597.31,531.91Z" fill="yellow" fill-opacity="0.8"/><path d="M608.00,542.60L596.62,531.22A16.09,16.09 0 0 0 591.91,542.60Z" fill="green" fill-opacity="0.8"/><path d="M608.00,542.60L576.80,542.60A31.20,31.20 0 0 0 585.94,564.66Z" fill="blue" fill-opacity="0.8"/><path d="M608.00,542.60L597.66,552.94A14.62,14.62 0 0 0 608.00,557.23Z" fill="purple" fill-opacity="0.8"/><path d="M608.00,542.60L608.00,588.91A46.31,46.31 0 0 0 640.75,575.35Z" fill="pink" fill-opacity="0.8"/><path d="M608.00,542.60L640.75,575.35A46.31,46.31 0 0 0 654.31,542.60Z" fill="gray" fill-opacity="0.8"/><circle cx="608.00" cy="542.60" r="31.20" fill="none" stroke="#b0b0b0" stroke-width="1.3" stroke-opacity="0.85"/><line x1="559.25" y1="542.60" x2="656.75" y2="542.60" stroke="#b0b0b0" stroke-width="1.3" stroke-opacity="0.85"/><line x1="573.53" y1="577.07" x2="642.47" y2="508.13" stroke="#b0b0b0" stroke-width="1.3" stroke-opacity="0.85"/><line x1="608.00" y1="591.35" x2="608.00" y2="493.85" stroke="#b0b0b0" stroke-width="1.3" stroke-opacity="0.85"/><line x1="642.47" y1="577.07" x2="573.53" y2="508.13" stroke="#b0b0b0" stroke-width="1.3" stroke-opacity="0.85"/><circle cx="608.00" cy="542.60" r="48.75" fill="none" stroke="#2e2e2e" stroke-width="1.7"/>
<path d="M69.00,672.00L99.22,672.00A30.23,30.23 0 0 0 90.37,650.63Z" fill="red" fill-opacity="0.8"/><path d="M69.00,672.00L102.44,638.56A47.29,47.29 0 0 0 69.00,624.71Z" fill="orange" fill-opacity="0.8"/><path d="M69.00,672.00L69.00,640.56A31.44,31.44 0 0 0 46.77,649.77Z" fill="yellow" fill-opacity="0.8"/><path d="M69.00,672.00L46.94,649.94A31.20,31.20 0 0 0 37.80,672.00Z" fill="green" fill-opacity="0.8"/><path d="M69.00,672.00L37.80,672.00A31.20,31.20 0 0 0 46.94,694.06Z" fill="blue" fill-opacity="0.8"/><path d="M69.00,672.00L36.94,704.06A45.34,45.34 0 0 0 69.00,717.34Z" fill="purple" fill-opacity="0.8"/><path d="M69.00,672.00L69.00,700.76A28.76,28.76 0 0 0 89.34,692.34Z" fill="pink" fill-opacity="0.8"/><path d="M69.00,672.00L90.37,693.37A30.23,30.23 0 0 0 99.22,672.00Z" fill="gray" fill-opacity="0.8"/><circle cx="69.00" cy="672.00" r="29.74" fill="none" stroke="#b0b0b0" stroke-width="1.3" stroke-opacity="0.85"/><line x1="20.25" y1="672.00" x2="117.75" y2="672.00" stroke="#b0b0b0" stroke-width="1.3" stroke-opacity="0.85"/><line x1="34.53" y1="706.47" x2="103.47" y2="637.53" stroke="#b0b0b0" stroke-width="1.3" stroke-opacity="0.85"/><line x1="69.00" y1="720.75" x2="69.00" y2="623.25" stroke="#b0b0b0" stroke-width="1.3" stroke-opacity="0.85"/><line x1="103.47" y1="706.47" x2="34.53" y2="637.53" stroke="#b0b0b0" stroke-width="1.3" stroke-opacity="0.85"/><circle cx="69.00" cy="672.00" r="48.75" fill="none" stroke="#2e2e2e" stroke-width="1.7"/>
<path d="M176.80,672.00L207.51,672.00A30.71,30.71 0 0 0 198.52,650.28Z" fill="red" fill-opacity="0.8"/><path d="M176.80,672.00L210.58,638.22A47.77,47.77 0 0 0 176.80,624.23Z" fill="orange" fill-opacity="0.8"/><path d="M176.80,672.00L176.80,640.31A31.69,31.69 0 0 0 154.39,649.59Z" fill="yellow" fill-opacity="0.8"/><path d="M176.80,672.00L155.08,650.28A30.71,30.71 0 0 0 146.09,672.00Z" fill="green" fill-opacity="0.8"/><path d="M176.80,672.00L146.09,672.00A30.71,30.71 0 0 0 155.08,693.72Z" fill="blue" fill-opacity="0.8"/><path d="M176.80,672.00L156.12,692.68A29.25,29.25 0 0 0 176.80,701.25Z" fill="purple" fill-opacity="0.8"/><path d="M176.80,672.00L176.80,701.25A29.25,29.25 0 0 0 197.48,692.68Z" fill="pink" fill-opacity="0.8"/><path d="M176.80,672.00L198.52,693.72A30.71,30.71 0 0 0 207.51,672.00Z" fill="gray" fill-opacity="0.8"/><line x1="128.05" y1="672.00" x2="225.55" y2="672.00" stroke="#b0b0b0" stroke-width="1.3" stroke-opacity="0.85"/><line x1="142.33" y1="706.47" x2="211.27" y2="637.53" stroke="#b0b0b0" stroke-width="1.3" stroke-opacity="0.85"/><line x1="176.80" y1="720.75" x2="176.80" y2="623.25" stroke="#b0b0b0" stroke-width="1.3" stroke-opacity="0.85"/><line x1="211.27" y1="706.47" x2="142.33" y2="637.53" stroke="#b0b0b0" stroke-width="1.3" stroke-opacity="0.85"/><circle cx="176.80" cy="672.00" r="48.75" fill="none" stroke="#2e2e2e" stroke-width="1.7"/>
<path d="M284.60,672.00L331.40,672.00A46.80,46.80 0 0 0 317.69,638.91Z" fill="red" fill-opacity="0.8"/><path d="M284.60,672.00L301.49,655.11A23.89,23.89 0 0 0 284.60,648.11Z" fill="orange" fill-opacity="0.8"/><path d="M284.60,672.00L278.74,666.14A8.29,8.29 0 0 0 276.31,672.00Z" fill="green" fill-opacity="0.8"/><path d="M284.60,672.00L277.29,672.00A7.31,7.31 0 0 0 279.43,677.17Z" fill="blue" fill-opacity="0.8"/><path d="M284.60,672.00L284.60,692.96A20.96,20.96 0 0 0 299.42,686.82Z" fill="pink" fill-opacity="0.8"/><path d="M284.60,672.00L305.63,693.03A29.74,29.74 0 0 0 314.34,672.00Z" fill="gray" fill-opacity="0.8"/><circle cx="284.60" cy="672.00" r="39.00" fill="none" stroke="#b0b0b0" stroke-width="1.3" stroke-opacity="0.85"/><line x1="235.85" y1="672.00" x2="333.35" y2="672.00" stroke="#b0b0b0" stroke-width="1.3" stroke-opacity="0.85"/><line x1="250.13" y1="706.47" x2="319.07" y2="637.53" stroke="#b0b0b0" stroke-width="1.3" stroke-opacity="0.85"/><line x1="284.60" y1="720.75" x2="284.60" y2="623.25" stroke="#b0b0b0" stroke-width="1.3" stroke-opacity="0.85"/><line x1="319.07" y1="706.47" x2="250.13" y2="637.53" stroke="#b0b0b0" stroke-width="1.3" stroke-opacity="0.85"/><circle cx="284.60" cy="672.00" r="48.75" fill="none" stroke="#2e2e2e" stroke-width="1.7"/>
<path d="M392.40,672.00L415.31,672.00A22.91,22.91 0 0 0 408.60,655.80Z" fill="red" fill-opacity="0.8"/><path d="M392.40,672.00L425.84,638.56A47.29,47.29 0 0 0 392.40,624.71Z" fill="orange" fill-opacity="0.8"/><path d="M392.40,672.00L392.40,635.92A36.08,36.08 0 0 0 366.89,646.49Z" fill="yellow" fill-opacity="0.8"/><path d="M392.40,672.00L385.51,678.89A9.75,9.75 0 0 0 392.40,681.75Z" fill="purple" fill-opacity="0.8"/><path d="M392.40,672.00L392.40,718.31A46.31,46.31 0 0 0 425.15,704.75Z" fill="pink" fill-opacity="0.8"/><path d="M392.40,672.00L416.53,696.13A34.12,34.12 0 0 0 426.52,672.00Z" fill="gray" fill-opacity="0.8"/><circle cx="392.40" cy="672.00" r="29.25" fill="none" stroke="#b0b0b0" stroke-width="1.3" stroke-opacity="0.85"/><line x1="343.65" y1="672.00" x2="441.15" y2="672.00" stroke="#b0b0b0" stroke-width="1.3" stroke-opacity="0.85"/><line x1="357.93" y1="706.47" x2="426.87" y2="637.53" stroke="#b0b0b0" stroke-width="1.3" stroke-opacity="0.85"/><line x1="392.40" y1="720.75" x2="392.40" y2="623.25" stroke="#b0b0b0" stroke-width="1.3" stroke-opacity="0.85"/><line x1="426.87" y1="706.47" x2="357.93" y2="637.53" stroke="#b0b0b0" stroke-width="1.3" stroke-opacity="0.85"/><circle cx="392.40" cy="672.00" r="48.75" fill="none" stroke="#2e2e2e" stroke-width="1.7"/>
<path d="M500.20,672.00L530.42,672.00A30.23,30.23 0 0 0 521.57,650.63Z" fill="red" fill-opacity="0.8"/><path d="M500.20,672.00L533.64,638.56A47.29,47.29 0 0 0 500.20,624.71Z" fill="orange" fill-opacity="0.8"/><path d="M500.20,672.00L500.20,640.56A31.44,31.44 0 0 0 477.97,649.77Z" fill="yellow" fill-opacity="0.8"/><path d="M500.20,672.00L478.31,650.11A30.96,30.96 0 0 0 469.24,672.00Z" fill="green" fill-opacity="0.8"/><path d="M500.20,672.00L469.97,672.00A30.23,30.23 0 0 0 478.83,693.37Z" fill="blue" fill-opacity="0.8"/><path d="M500.20,672.00L479.86,692.34A28.76,28.76 0 0 0 500.20,700.76Z" fill="purple" fill-opacity="0.8"/><path d="M500.20,672.00L500.20,718.31A46.31,46.31 0 0 0 532.95,704.75Z" fill="pink" fill-opacity="0.8"/><path d="M500.20,672.00L521.57,693.37A30.23,30.23 0 0 0 530.42,672.00Z" fill="gray" fill-opacity="0.8"/><line x1="451.45" y1="672.00" x2="548.95" y2="672.00" stroke="#b0b0b0" stroke-width="1.3" stroke-opacity="0.85"/><line x1="465.73" y1="706.47" x2="534.67" y2="637.53" stroke="#b0b0b0" stroke-width="1.3" stroke-opacity="0.85"/><line x1="500.20" y1="720.75" x2="500.20" y2="623.25" stroke="#b0b0b0" stroke-width="1.3" stroke-opacity="0.85"/><line x1="534.67" y1="706.47" x2="465.73" y2="637.53" stroke="#b0b0b0" stroke-width="1.3" stroke-opacity="0.85"/><circle cx="500.20" cy="672.00" r="48.75" fill="none" stroke="#2e2e2e" stroke-width="1.7"/>
<path d="M608.00,672.00L654.31,672.00A46.31,46.31 0 0 0 640.75,639.25Z" fill="red" fill-opacity="0.8"/><path d="M608.00,672.00L641.44,638.56A47.29,47.29 0 0 0 608.00,624.71Z" fill="orange" fill-opacity="0.8"/><path d="M608.00,672.00L608.00,640.80A31.20,31.20 0 0 0 585.94,649.94Z" fill="yellow" fill-opacity="0.8"/><path d="M608.00,672.00L596.97,660.97A15.60,15.60 0 0 0 592.40,672.00Z" fill="green" fill-opacity="0.8"/><path d="M608.00,672.00L592.40,672.00A15.60,15.60 0 0 0 596.97,683.03Z" fill="blue" fill-opacity="0.8"/><path d="M608.00,672.00L576.29,703.71A44.85,44.85 0 0 0 608.00,716.85Z" fill="purple" fill-opacity="0.8"/><path d="M608.00,672.00L608.00,700.76A28.76,28.76 0 0 0 628.34,692.34Z" fill="pink" fill-opacity="0.8"/><path d="M608.00,672.00L640.75,704.75A46.31,46.31 0 0 0 654.31,672.00Z" fill="gray" fill-opacity="0.8"/><circle cx="608.00" cy="672.00" r="31.20" fill="none" stroke="#b0b0b0" stroke-width="1.3" stroke-opacity="0.85"/><line x1="559.25" y1="672.00" x2="656.75" y2="672.00" stroke="#b0b0b0" stroke-width="1.3" stroke-opacity="0.85"/><line x1="573.53" y1="706.47" x2="642.47" y2="637.53" stroke="#b0b0b0" stroke-width="1.3" stroke-opacity="0.85"/><line x1="608.00" y1="720.75" x2="608.00" y2="623.25" stroke="#b0b0b0" stroke-width="1.3" stroke-opacity="0.85"/><line x1="642.47" y1="706.47" x2="573.53" y2="637.53" stroke="#b0b0b0" stroke-width="1.3" stroke-opacity="0.85"/><circle cx="608.00" cy="672.00" r="48.75" fill="none" stroke="#2e2e2e" stroke-width="1.7"/>
<path d="M69.00,801.20L99.22,801.20A30.23,30.23 0 0 0 90.37,779.83Z" fill="red" fill-opacity="0.8"/><path d="M69.00,801.20L91.23,778.97A31.44,31.44 0 0 0 69.00,769.76Z" fill="orange" fill-opacity="0.8"/><path d="M69.00,801.20L69.00,769.76A31.44,31.44 0 0 0 46.77,778.97Z" fill="yellow" fill-opacity="0.8"/><path d="M69.00,801.20L47.11,779.31A30.96,30.96 0 0 0 38.04,801.20Z" fill="green" fill-opacity="0.8"/><path d="M69.00,801.20L53.89,801.20A15.11,15.11 0 0 0 58.31,811.89Z" fill="blue" fill-opacity="0.8"/><path d="M69.00,801.20L36.94,833.26A45.34,45.34 0 0 0 69.00,846.54Z" fill="purple" fill-opacity="0.8"/><path d="M69.00,801.20L69.00,829.96A28.76,28.76 0 0 0 89.34,821.54Z" fill="pink" fill-opacity="0.8"/><path d="M69.00,801.20L90.37,822.57A30.23,30.23 0 0 0 99.22,801.20Z" fill="gray" fill-opacity="0.8"/><circle cx="69.00" cy="801.20" r="29.74" fill="none" stroke="#b0b0b0" stroke-width="1.3" stroke-opacity="0.85"/><line x1="20.25" y1="801.20" x2="117.75" y2="801.20" stroke="#b0b0b0" stroke-width="1.3" stroke-opacity="0.85"/><line x1="34.53" y1="835.67" x2="103.47" y2="766.73" stroke="#b0b0b0" stroke-width="1.3" stroke-opacity="0.85"/><line x1="69.00" y1="849.95" x2="69.00" y2="752.45" stroke="#b0b0b0" stroke-width="1.3" stroke-opacity="0.85"/><line x1="103.47" y1="835.67" x2="34.53" y2="766.73" stroke="#b0b0b0" stroke-width="1.3" stroke-opacity="0.85"/><circle cx="69.00" cy="801.20" r="48.75" fill="none" stroke="#2e2e2e" stroke-width="1.7"/>
<path d="M176.80,801.20L223.60,801.20A46.80,46.80 0 0 0 209.89,768.11Z" fill="red" fill-opacity="0.8"/><path d="M176.80,801.20L199.21,778.79A31.69,31.69 0 0 0 176.80,769.51Z" fill="orange" fill-opacity="0.8"/><path d="M176.80,801.20L176.80,753.91A47.29,47.29 0 0 0 143.36,767.76Z" fill="yellow" fill-opacity="0.8"/><path d="M176.80,801.20L155.08,779.48A30.71,30.71 0 0 0 146.09,801.20Z" fill="green" fill-opacity="0.8"/><path d="M176.80,801.20L161.69,801.20A15.11,15.11 0 0 0 166.11,811.89Z" fill="blue" fill-opacity="0.8"/><path d="M176.80,801.20L166.46,811.54A14.62,14.62 0 0 0 176.80,815.83Z" fill="purple" fill-opacity="0.8"/><path d="M176.80,801.20L176.80,847.51A46.31,46.31 0 0 0 209.55,833.95Z" fill="pink" fill-opacity="0.8"/><path d="M176.80,801.20L209.55,833.95A46.31,46.31 0 0 0 223.11,801.20Z" fill="gray" fill-opacity="0.8"/><circle cx="176.80" cy="801.20" r="30.71" fill="none" stroke="#b0b0b0" stroke-width="1.3" stroke-opacity="0.85"/><line x1="128.05" y1="801.20" x2="225.55" y2="801.20" stroke="#b0b0b0" stroke-width="1.3" stroke-opacity="0.85"/><line x1="142.33" y1="835.67" x2="211.27" y2="766.73" stroke="#b0b0b0" stroke-width="1.3" stroke-opacity="0.85"/><line x1="176.80" y1="849.95" x2="176.80" y2="752.45" stroke="#b0b0b0" stroke-width="1.3" stroke-opacity="0.85"/><line x1="211.27" y1="835.67" x2="142.33" y2="766.73" stroke="#b0b0b0" stroke-width="1.3" stroke-opacity="0.85"/><circle cx="176.80" cy="801.20" r="48.75" fill="none" stroke="#2e2e2e" stroke-width="1.7"/>
<path d="M284.60,801.20L330.91,801.20A46.31,46.31 0 0 0 317.35,768.45Z" fill="red" fill-opacity="0.8"/><line x1="235.85" y1="801.20" x2="333.35" y2="801.20" stroke="#b0b0b0" stroke-width="1.3" stroke-opacity="0.85"/><line x1="250.13" y1="835.67" x2="319.07" y2="766.73" stroke="#b0b0b0" stroke-width="1.3" stroke-opacity="0.85"/><line x1="284.60" y1="849.95" x2="284.60" y2="752.45" stroke="#b0b0b0" stroke-width="1.3" stroke-opacity="0.85"/><line x1="319.07" y1="835.67" x2="250.13" y2="766.73" stroke="#b0b0b0" stroke-width="1.3" stroke-opacity="0.85"/><circle cx="284.60" cy="801.20" r="48.75" fill="none" stroke="#2e2e2e" stroke-width="1.7"/>
<path d="M392.40,801.20L415.31,801.20A22.91,22.91 0 0 0 408.60,785.00Z" fill="red" fill-opacity="0.8"/><path d="M392.40,801.20L425.84,767.76A47.29,47.29 0 0 0 392.40,753.91Z" fill="orange" fill-opacity="0.8"/><path d="M392.40,801.20L392.40,778.29A22.91,22.91 0 0 0 376.20,785.00Z" fill="yellow" fill-opacity="0.8"/><path d="M392.40,801.20L381.19,801.20A11.21,11.21 0 0 0 384.47,809.13Z" fill="blue" fill-opacity="0.8"/><path d="M392.40,801.20L377.58,816.02A20.96,20.96 0 0 0 392.40,822.16Z" fill="purple" fill-opacity="0.8"/><path d="M392.40,801.20L392.40,834.35A33.15,33.15 0 0 0 415.84,824.64Z" fill="pink" fill-opacity="0.8"/><path d="M392.40,801.20L407.91,816.71A21.94,21.94 0 0 0 414.34,801.20Z" fill="gray" fill-opacity="0.8"/><circle cx="392.40" cy="801.20" r="29.25" fill="none" stroke="#b0b0b0" stroke-width="1.3" stroke-opacity="0.85"/><line x1="343.65" y1="801.20" x2="441.15" y2="801.20" stroke="#b0b0b0" stroke-width="1.3" stroke-opacity="0.85"/><line x1="357.93" y1="835.67" x2="426.87" y2="766.73" stroke="#b0b0b0" stroke-width="1.3" stroke-opacity="0.85"/><line x1="392.40" y1="849.95" x2="392.40" y2="752.45" stroke="#b0b0b0" stroke-width="1.3" stroke-opacity="0.85"/><line x1="426.87" y1="835.67" x2="357.93" y2="766.73" stroke="#b0b0b0" stroke-width="1.3" stroke-opacity="0.85"/><circle cx="392.40" cy="801.20" r="48.75" fill="none" stroke="#2e2e2e" stroke-width="1.7"/>
<path d="M500.20,801.20L547.00,801.20A46.80,46.80 0 0 0 533.29,768.11Z" fill="red" fill-opacity="0.8"/><path d="M500.20,801.20L531.57,832.57A44.36,44.36 0 0 0 544.56,801.20Z" fill="gray" fill-opacity="0.8"/><circle cx="500.20" cy="801.20" r="25.84" fill="none" stroke="#b0b0b0" stroke-width="1.3" stroke-opacity="0.85"/><line x1="451.45" y1="801.20" x2="548.95" y2="801.20" stroke="#b0b0b0" stroke-width="1.3" stroke-opacity="0.85"/><line x1="465.73" y1="835.67" x2="534.67" y2="766.73" stroke="#b0b0b0" stroke-width="1.3" stroke-opacity="0.85"/><line x1="500.20" y1="849.95" x2="500.20" y2="752.45" stroke="#b0b0b0" stroke-width="1.3" stroke-opacity="0.85"/><line x1="534.67" y1="835.67" x2="465.73" y2="766.73" stroke="#b0b0b0" stroke-width="1.3" stroke-opacity="0.85"/><circle cx="500.20" cy="801.20" r="48.75" fill="none" stroke="#2e2e2e" stroke-width="1.7"/>
<path d="M608.00,801.20L654.80,801.20A46.80,46.80 0 0 0 641.09,768.11Z" fill="red" fill-opacity="0.8"/><path d="M608.00,801.20L608.00,806.08A4.88,4.88 0 0 0 611.45,804.65Z" fill="pink" fill-opacity="0.8"/><path d="M608.00,801.20L639.37,832.57A44.36,44.36 0 0 0 652.36,801.20Z" fill="gray" fill-opacity="0.8"/><circle cx="608.00" cy="801.20" r="29.74" fill="none" stroke="#b0b0b0" stroke-width="1.3" stroke-opacity="0.85"/><line x1="559.25" y1="801.20" x2="656.75" y2="801.20" stroke="#b0b0b0" stroke-width="1.3" stroke-opacity="0.85"/><line x1="573.53" y1="835.67" x2="642.47" y2="766.73" stroke="#b0b0b0" stroke-width="1.3" stroke-opacity="0.85"/><line x1="608.00" y1="849.95" x2="608.00" y2="752.45" stroke="#b0b0b0" stroke-width="1.3" stroke-opacity="0.85"/><line x1="642.47" y1="835.67" x2="573.53" y2="766.73" stroke="#b0b0b0" stroke-width="1.3" stroke-opacity="0.85"/><circle cx="608.00" cy="801.20" r="48.75" fill="none" stroke="#2e2e2e" stroke-width="1.7"/>
<path d="M69.00,976.60L96.30,976.60A27.30,27.30 0 0 0 88.30,957.30Z" fill="red" fill-opacity="0.8"/><path d="M69.00,976.60L102.09,943.51A46.80,46.80 0 0 0 69.00,929.80Z" fill="orange" fill-opacity="0.8"/><path d="M69.00,976.60L69.00,939.06A37.54,37.54 0 0 0 42.46,950.06Z" fill="yellow" fill-opacity="0.8"/><path d="M69.00,976.60L55.90,963.50A18.52,18.52 0 0 0 50.48,976.60Z" fill="green" fill-opacity="0.8"/><path d="M69.00,976.60L40.73,976.60A28.27,28.27 0 0 0 49.01,996.59Z" fill="blue" fill-opacity="0.8"/><path d="M69.00,976.60L50.04,995.56A26.81,26.81 0 0 0 69.00,1003.41Z" fill="purple" fill-opacity="0.8"/><path d="M69.00,976.60L69.00,1002.93A26.33,26.33 0 0 0 87.61,995.21Z" fill="pink" fill-opacity="0.8"/><path d="M69.00,976.60L94.85,1002.45A36.56,36.56 0 0 0 105.56,976.60Z" fill="gray" fill-opacity="0.8"/><line x1="20.25" y1="976.60" x2="117.75" y2="976.60" stroke="#b0b0b0" stroke-width="1.3" stroke-opacity="0.85"/><line x1="34.53" y1="1011.07" x2="103.47" y2="942.13" stroke="#b0b0b0" stroke-width="1.3" stroke-opacity="0.85"/><line x1="69.00" y1="1025.35" x2="69.00" y2="927.85" stroke="#b0b0b0" stroke-width="1.3" stroke-opacity="0.85"/><line x1="103.47" y1="1011.07" x2="34.53" y2="942.13" stroke="#b0b0b0" stroke-width="1.3" stroke-opacity="0.85"/><circle cx="69.00" cy="976.60" r="48.75" fill="none" stroke="#2e2e2e" stroke-width="1.7"/>
<path d="M176.80,976.60L196.30,976.60A19.50,19.50 0 0 0 190.59,962.81Z" fill="red" fill-opacity="0.8"/><path d="M176.80,976.60L210.24,943.16A47.29,47.29 0 0 0 176.80,929.31Z" fill="orange" fill-opacity="0.8"/><path d="M176.80,976.60L176.80,961.49A15.11,15.11 0 0 0 166.11,965.91Z" fill="yellow" fill-opacity="0.8"/><path d="M176.80,976.60L167.49,967.29A13.16,13.16 0 0 0 163.64,976.60Z" fill="green" fill-opacity="0.8"/><path d="M176.80,976.60L171.93,976.60A4.88,4.88 0 0 0 173.35,980.05Z" fill="blue" fill-opacity="0.8"/><path d="M176.80,976.60L154.39,999.01A31.69,31.69 0 0 0 176.80,1008.29Z" fill="purple" fill-opacity="0.8"/><path d="M176.80,976.60L176.80,994.64A18.04,18.04 0 0 0 189.55,989.35Z" fill="pink" fill-opacity="0.8"/><path d="M176.80,976.60L190.24,990.04A19.01,19.01 0 0 0 195.81,976.60Z" fill="gray" fill-opacity="0.8"/><circle cx="176.80" cy="976.60" r="33.15" fill="none" stroke="#b0b0b0" stroke-width="1.3" stroke-opacity="0.85"/><line x1="128.05" y1="976.60" x2="225.55" y2="976.60" stroke="#b0b0b0" stroke-width="1.3" stroke-opacity="0.85"/><line x1="142.33" y1="1011.07" x2="211.27" y2="942.13" stroke="#b0b0b0" stroke-width="1.3" stroke-opacity="0.85"/><line x1="176.80" y1="1025.35" x2="176.80" y2="927.85" stroke="#b0b0b0" stroke-width="1.3" stroke-opacity="0.85"/><line x1="211.27" y1="1011.07" x2="142.33" y2="942.13" stroke="#b0b0b0" stroke-width="1.3" stroke-opacity="0.85"/><circle cx="176.80" cy="976.60" r="48.75" fill="none" stroke="#2e2e2e" stroke-width="1.7"/>
<path d="M284.60,976.60L331.40,976.60A46.80,46.80 0 0 0 317.69,943.51Z" fill="red" fill-opacity="0.8"/><path d="M284.60,976.60L318.04,943.16A47.29,47.29 0 0 0 284.60,929.31Z" fill="orange" fill-opacity="0.8"/><path d="M284.60,976.60L284.60,929.31A47.29,47.29 0 0 0 251.16,943.16Z" fill="yellow" fill-opacity="0.8"/><path d="M284.60,976.60L259.78,951.78A35.10,35.10 0 0 0 249.50,976.60Z" fill="green" fill-opacity="0.8"/><path d="M284.60,976.60L275.34,976.60A9.26,9.26 0 0 0 278.05,983.15Z" fill="blue" fill-opacity="0.8"/><path d="M284.60,976.60L251.85,1009.35A46.31,46.31 0 0 0 284.60,1022.91Z" fill="purple" fill-opacity="0.8"/><path d="M284.60,976.60L284.60,1022.91A46.31,46.31 0 0 0 317.35,1009.35Z" fill="pink" fill-opacity="0.8"/><path d="M284.60,976.60L308.04,1000.04A33.15,33.15 0 0 0 317.75,976.60Z" fill="gray" fill-opacity="0.8"/><circle cx="284.60" cy="976.60" r="29.25" fill="none" stroke="#b0b0b0" stroke-width="1.3" stroke-opacity="0.85"/><line x1="235.85" y1="976.60" x2="333.35" y2="976.60" stroke="#b0b0b0" stroke-width="1.3" stroke-opacity="0.85"/><line x1="250.13" y1="1011.07" x2="319.07" y2="942.13" stroke="#b0b0b0" stroke-width="1.3" stroke-opacity="0.85"/><line x1="284.60" y1="1025.35" x2="284.60" y2="927.85" stroke="#b0b0b0" stroke-width="1.3" stroke-opacity="0.85"/><line x1="319.07" y1="1011.07" x2="250.13" y2="942.13" stroke="#b0b0b0" stroke-width="1.3" stroke-opacity="0.85"/><circle cx="284.60" cy="976.60" r="48.75" fill="none" stroke="#2e2e2e" stroke-width="1.7"/>
<path d="M392.40,976.60L415.31,976.60A22.91,22.91 0 0 0 408.60,960.40Z" fill="red" fill-opacity="0.8"/><path d="M392.40,976.60L414.46,954.54A31.20,31.20 0 0 0 392.40,945.40Z" fill="orange" fill-opacity="0.8"/><path d="M392.40,976.60L392.40,944.91A31.69,31.69 0 0 0 369.99,954.19Z" fill="yellow" fill-opacity="0.8"/><path d="M392.40,976.60L381.71,965.91A15.11,15.11 0 0 0 377.29,976.60Z" fill="green" fill-opacity="0.8"/><path d="M392.40,976.60L387.52,976.60A4.88,4.88 0 0 0 388.95,980.05Z" fill="blue" fill-opacity="0.8"/><path d="M392.40,976.60L360.00,1009.00A45.82,45.82 0 0 0 392.40,1022.43Z" fill="purple" fill-opacity="0.8"/><path d="M392.40,976.60L392.40,1005.85A29.25,29.25 0 0 0 413.08,997.28Z" fill="pink" fill-opacity="0.8"/><path d="M392.40,976.60L408.60,992.80A22.91,22.91 0 0 0 415.31,976.60Z" fill="gray" fill-opacity="0.8"/><circle cx="392.40" cy="976.60" r="39.00" fill="none" stroke="#b0b0b0" stroke-width="1.3" stroke-opacity="0.85"/><line x1="343.65" y1="976.60" x2="441.15" y2="976.60" stroke="#b0b0b0" stroke-width="1.3" stroke-opacity="0.85"/><line x1="357.93" y1="1011.07" x2="426.87" y2="942.13" stroke="#b0b0b0" stroke-width="1.3" stroke-opacity="0.85"/><line x1="392.40" y1="1025.35" x2="392.40" y2="927.85" stroke="#b0b0b0" stroke-width="1.3" stroke-opacity="0.85"/><line x1="426.87" y1="1011.07" x2="357.93" y2="942.13" stroke="#b0b0b0" stroke-width="1.3" stroke-opacity="0.85"/><circle cx="392.40" cy="976.60" r="48.75" fill="none" stroke="#2e2e2e" stroke-width="1.7"/>
<path d="M500.20,976.60L547.00,976.60A46.80,46.80 0 0 0 533.29,943.51Z" fill="red" fill-opacity="0.8"/><circle cx="500.20" cy="976.60" r="31.20" fill="none" stroke="#b0b0b0" stroke-width="1.3" stroke-opacity="0.85"/><line x1="451.45" y1="976.60" x2="548.95" y2="976.60" stroke="#b0b0b0" stroke-width="1.3" stroke-opacity="0.85"/><line x1="465.73" y1="1011.07" x2="534.67" y2="942.13" stroke="#b0b0b0" stroke-width="1.3" stroke-opacity="0.85"/><line x1="500.20" y1="1025.35" x2="500.20" y2="927.85" stroke="#b0b0b0" stroke-width="1.3" stroke-opacity="0.85"/><line x1="534.67" y1="1011.07" x2="465.73" y2="942.13" stroke="#b0b0b0" stroke-width="1.3" stroke-opacity="0.85"/><circle cx="500.20" cy="976.60" r="48.75" fill="none" stroke="#2e2e2e" stroke-width="1.7"/>
<path d="M608.00,976.60L654.31,976.60A46.31,46.31 0 0 0 640.75,943.85Z" fill="red" fill-opacity="0.8"/><path d="M608.00,976.60L634.54,950.06A37.54,37.54 0 0 0 608.00,939.06Z" fill="orange" fill-opacity="0.8"/><path d="M608.00,976.60L608.00,966.85A9.75,9.75 0 0 0 601.11,969.71Z" fill="yellow" fill-opacity="0.8"/><path d="M608.00,976.60L594.90,963.50A18.52,18.52 0 0 0 589.48,976.60Z" fill="green" fill-opacity="0.8"/><path d="M608.00,976.60L579.73,976.60A28.27,28.27 0 0 0 588.01,996.59Z" fill="blue" fill-opacity="0.8"/><path d="M608.00,976.60L595.59,989.01A17.55,17.55 0 0 0 608.00,994.15Z" fill="purple" fill-opacity="0.8"/><path d="M608.00,976.60L608.00,1022.91A46.31,46.31 0 0 0 640.75,1009.35Z" fill="pink" fill-opacity="0.8"/><path d="M608.00,976.60L640.75,1009.35A46.31,46.31 0 0 0 654.31,976.60Z" fill="gray" fill-opacity="0.8"/><line x1="559.25" y1="976.60" x2="656.75" y2="976.60" stroke="#b0b0b0" stroke-width="1.3" stroke-opacity="0.85"/><line x1="573.53" y1="1011.07" x2="642.47" y2="942.13" stroke="#b0b0b0" stroke-width="1.3" stroke-opacity="0.85"/><line x1="608.00" y1="1025.35" x2="608.00" y2="927.85" stroke="#b0b0b0" stroke-width="1.3" stroke-opacity="0.85"/><line x1="642.47" y1="1011.07" x2="573.53" y2="942.13" stroke="#b0b0b0" stroke-width="1.3" stroke-opacity="0.85"/><circle cx="608.00" cy="976.60" r="48.75" fill="none" stroke="#2e2e2e" stroke-width="1.7"/>
<path d="M69.00,1105.60L87.53,1105.60A18.52,18.52 0 0 0 82.10,1092.50Z" fill="red" fill-opacity="0.8"/><path d="M69.00,1105.60L102.44,1072.16A47.29,47.29 0 0 0 69.00,1058.31Z" fill="orange" fill-opacity="0.8"/><path d="M69.00,1105.60L69.00,1077.81A27.79,27.79 0 0 0 49.35,1085.95Z" fill="yellow" fill-opacity="0.8"/><path d="M69.00,1105.60L56.59,1093.19A17.55,17.55 0 0 0 51.45,1105.60Z" fill="green" fill-opacity="0.8"/><path d="M69.00,1105.60L41.21,1105.60A27.79,27.79 0 0 0 49.35,1125.25Z" fill="blue" fill-opacity="0.8"/><path d="M69.00,1105.60L36.94,1137.66A45.34,45.34 0 0 0 69.00,1150.94Z" fill="purple" fill-opacity="0.8"/><path d="M69.00,1105.60L69.00,1120.71A15.11,15.11 0 0 0 79.69,1116.29Z" fill="pink" fill-opacity="0.8"/><path d="M69.00,1105.60L88.99,1125.59A28.27,28.27 0 0 0 97.28,1105.60Z" fill="gray" fill-opacity="0.8"/><line x1="20.25" y1="1105.60" x2="117.75" y2="1105.60" stroke="#b0b0b0" stroke-width="1.3" stroke-opacity="0.85"/><line x1="34.53" y1="1140.07" x2="103.47" y2="1071.13" stroke="#b0b0b0" stroke-width="1.3" stroke-opacity="0.85"/><line x1="69.00" y1="1154.35" x2="69.00" y2="1056.85" stroke="#b0b0b0" stroke-width="1.3" stroke-opacity="0.85"/><line x1="103.47" y1="1140.07" x2="34.53" y2="1071.13" stroke="#b0b0b0" stroke-width="1.3" stroke-opacity="0.85"/><circle cx="69.00" cy="1105.60" r="48.75" fill="none" stroke="#2e2e2e" stroke-width="1.7"/>
<path d="M176.80,1105.60L210.44,1105.60A33.64,33.64 0 0 0 200.59,1081.81Z" fill="red" fill-opacity="0.8"/><path d="M176.80,1105.60L210.24,1072.16A47.29,47.29 0 0 0 176.80,1058.31Z" fill="orange" fill-opacity="0.8"/><path d="M176.80,1105.60L176.80,1070.50A35.10,35.10 0 0 0 151.98,1080.78Z" fill="yellow" fill-opacity="0.8"/><path d="M176.80,1105.60L151.98,1080.78A35.10,35.10 0 0 0 141.70,1105.60Z" fill="green" fill-opacity="0.8"/><path d="M176.80,1105.60L153.40,1105.60A23.40,23.40 0 0 0 160.25,1122.15Z" fill="blue" fill-opacity="0.8"/><path d="M176.80,1105.60L144.74,1137.66A45.34,45.34 0 0 0 176.80,1150.94Z" fill="purple" fill-opacity="0.8"/><path d="M176.80,1105.60L176.80,1135.82A30.23,30.23 0 0 0 198.17,1126.97Z" fill="pink" fill-opacity="0.8"/><path d="M176.80,1105.60L200.24,1129.04A33.15,33.15 0 0 0 209.95,1105.60Z" fill="gray" fill-opacity="0.8"/><circle cx="176.80" cy="1105.60" r="29.74" fill="none" stroke="#b0b0b0" stroke-width="1.3" stroke-opacity="0.85"/><line x1="128.05" y1="1105.60" x2="225.55" y2="1105.60" stroke="#b0b0b0" stroke-width="1.3" stroke-opacity="0.85"/><line x1="142.33" y1="1140.07" x2="211.27" y2="1071.13" stroke="#b0b0b0" stroke-width="1.3" stroke-opacity="0.85"/><line x1="176.80" y1="1154.35" x2="176.80" y2="1056.85" stroke="#b0b0b0" stroke-width="1.3" stroke-opacity="0.85"/><line x1="211.27" y1="1140.07" x2="142.33" y2="1071.13" stroke="#b0b0b0" stroke-width="1.3" stroke-opacity="0.85"/><circle cx="176.80" cy="1105.60" r="48.75" fill="none" stroke="#2e2e2e" stroke-width="1.7"/>
<path d="M284.60,1105.60L331.40,1105.60A46.80,46.80 0 0 0 317.69,1072.51Z" fill="red" fill-opacity="0.8"/><path d="M284.60,1105.60L299.77,1090.43A21.45,21.45 0 0 0 284.60,1084.15Z" fill="orange" fill-opacity="0.8"/><path d="M284.60,1105.60L275.83,1105.60A8.78,8.78 0 0 0 278.40,1111.80Z" fill="blue" fill-opacity="0.8"/><path d="M284.60,1105.60L284.60,1124.12A18.52,18.52 0 0 0 297.70,1118.70Z" fill="pink" fill-opacity="0.8"/><path d="M284.60,1105.60L305.63,1126.63A29.74,29.74 0 0 0 314.34,1105.60Z" fill="gray" fill-opacity="0.8"/><circle cx="284.60" cy="1105.60" r="26.33" fill="none" stroke="#b0b0b0" stroke-width="1.3" stroke-opacity="0.85"/><line x1="235.85" y1="1105.60" x2="333.35" y2="1105.60" stroke="#b0b0b0" stroke-width="1.3" stroke-opacity="0.85"/><line x1="250.13" y1="1140.07" x2="319.07" y2="1071.13" stroke="#b0b0b0" stroke-width="1.3" stroke-opacity="0.85"/><line x1="284.60" y1="1154.35" x2="284.60" y2="1056.85" stroke="#b0b0b0" stroke-width="1.3" stroke-opacity="0.85"/><line x1="319.07" y1="1140.07" x2="250.13" y2="1071.13" stroke="#b0b0b0" stroke-width="1.3" stroke-opacity="0.85"/><circle cx="284.60" cy="1105.60" r="48.75" fill="none" stroke="#2e2e2e" stroke-width="1.7"/>
<path d="M392.40,1105.60L411.90,1105.60A19.50,19.50 0 0 0 406.19,1091.81Z" fill="red" fill-opacity="0.8"/><path d="M392.40,1105.60L420.67,1077.33A39.97,39.97 0 0 0 392.40,1065.62Z" fill="orange" fill-opacity="0.8"/><path d="M392.40,1105.60L392.40,1079.27A26.33,26.33 0 0 0 373.79,1086.99Z" fill="yellow" fill-opacity="0.8"/><path d="M392.40,1105.60L384.47,1113.53A11.21,11.21 0 0 0 392.40,1116.81Z" fill="purple" fill-opacity="0.8"/><path d="M392.40,1105.60L392.40,1152.40A46.80,46.80 0 0 0 425.49,1138.69Z" fill="pink" fill-opacity="0.8"/><path d="M392.40,1105.60L410.67,1123.87A25.84,25.84 0 0 0 418.24,1105.60Z" fill="gray" fill-opacity="0.8"/><circle cx="392.40" cy="1105.60" r="33.15" fill="none" stroke="#b0b0b0" stroke-width="1.3" stroke-opacity="0.85"/><line x1="343.65" y1="1105.60" x2="441.15" y2="1105.60" stroke="#b0b0b0" stroke-width="1.3" stroke-opacity="0.85"/><line x1="357.93" y1="1140.07" x2="426.87" y2="1071.13" stroke="#b0b0b0" stroke-width="1.3" stroke-opacity="0.85"/><line x1="392.40" y1="1154.35" x2="392.40" y2="1056.85" stroke="#b0b0b0" stroke-width="1.3" stroke-opacity="0.85"/><line x1="426.87" y1="1140.07" x2="357.93" y2="1071.13" stroke="#b0b0b0" stroke-width="1.3" stroke-opacity="0.85"/><circle cx="392.40" cy="1105.60" r="48.75" fill="none" stroke="#2e2e2e" stroke-width="1.7"/>
<path d="M500.20,1105.60L533.84,1105.60A33.64,33.64 0 0 0 523.99,1081.81Z" fill="red" fill-opacity="0.8"/><path d="M500.20,1105.60L533.64,1072.16A47.29,47.29 0 0 0 500.20,1058.31Z" fill="orange" fill-opacity="0.8"/><path d="M500.20,1105.60L500.20,1071.47A34.12,34.12 0 0 0 476.07,1081.47Z" fill="yellow" fill-opacity="0.8"/><path d="M500.20,1105.60L484.34,1089.74A22.43,22.43 0 0 0 477.77,1105.60Z" fill="green" fill-opacity="0.8"/><path d="M500.20,1105.60L465.59,1105.60A34.61,34.61 0 0 0 475.73,1130.07Z" fill="blue" fill-opacity="0.8"/><path d="M500.20,1105.60L476.41,1129.39A33.64,33.64 0 0 0 500.20,1139.24Z" fill="purple" fill-opacity="0.8"/><path d="M500.20,1105.60L500.20,1152.40A46.80,46.80 0 0 0 533.29,1138.69Z" fill="pink" fill-opacity="0.8"/><path d="M500.20,1105.60L523.99,1129.39A33.64,33.64 0 0 0 533.84,1105.60Z" fill="gray" fill-opacity="0.8"/><circle cx="500.20" cy="1105.60" r="29.25" fill="none" stroke="#b0b0b0" stroke-width="1.3" stroke-opacity="0.85"/><line x1="451.45" y1="1105.60" x2="548.95" y2="1105.60" stroke="#b0b0b0" stroke-width="1.3" stroke-opacity="0.85"/><line x1="465.73" y1="1140.07" x2="534.67" y2="1071.13" stroke="#b0b0b0" stroke-width="1.3" stroke-opacity="0.85"/><line x1="500.20" y1="1154.35" x2="500.20" y2="1056.85" stroke="#b0b0b0" stroke-width="1.3" stroke-opacity="0.85"/><line x1="534.67" y1="1140.07" x2="465.73" y2="1071.13" stroke="#b0b0b0" stroke-width="1.3" stroke-opacity="0.85"/><circle cx="500.20" cy="1105.60" r="48.75" fill="none" stroke="#2e2e2e" stroke-width="1.7"/>
<path d="M608.00,1105.60L654.31,1105.60A46.31,46.31 0 0 0 640.75,1072.85Z" fill="red" fill-opacity="0.8"/><path d="M608.00,1105.60L641.44,1072.16A47.29,47.29 0 0 0 608.00,1058.31Z" fill="orange" fill-opacity="0.8"/><path d="M608.00,1105.60L608.00,1070.01A35.59,35.59 0 0 0 582.84,1080.44Z" fill="yellow" fill-opacity="0.8"/><path d="M608.00,1105.60L591.80,1089.40A22.91,22.91 0 0 0 585.09,1105.60Z" fill="green" fill-opacity="0.8"/><path d="M608.00,1105.60L596.79,1105.60A11.21,11.21 0 0 0 600.07,1113.53Z" fill="blue" fill-opacity="0.8"/><path d="M608.00,1105.60L575.60,1138.00A45.82,45.82 0 0 0 608.00,1151.42Z" fill="purple" fill-opacity="0.8"/><path d="M608.00,1105.60L608.00,1134.85A29.25,29.25 0 0 0 628.68,1126.28Z" fill="pink" fill-opacity="0.8"/><path d="M608.00,1105.60L640.75,1138.35A46.31,46.31 0 0 0 654.31,1105.60Z" fill="gray" fill-opacity="0.8"/><circle cx="608.00" cy="1105.60" r="29.25" fill="none" stroke="#b0b0b0" stroke-width="1.3" stroke-opacity="0.85"/><line x1="559.25" y1="1105.60" x2="656.75" y2="1105.60" stroke="#b0b0b0" stroke-width="1.3" stroke-opacity="0.85"/><line x1="573.53" y1="1140.07" x2="642.47" y2="1071.13" stroke="#b0b0b0" stroke-width="1.3" stroke-opacity="0.85"/><line x1="608.00" y1="1154.35" x2="608.00" y2="1056.85" stroke="#b0b0b0" stroke-width="1.3" stroke-opacity="0.85"/><line x1="642.47" y1="1140.07" x2="573.53" y2="1071.13" stroke="#b0b0b0" stroke-width="1.3" stroke-opacity="0.85"/><circle cx="608.00" cy="1105.60" r="48.75" fill="none" stroke="#2e2e2e" stroke-width="1.7"/>
<path d="M69.00,1234.80L105.56,1234.80A36.56,36.56 0 0 0 94.85,1208.95Z" fill="red" fill-opacity="0.8"/><path d="M69.00,1234.80L88.30,1215.50A27.30,27.30 0 0 0 69.00,1207.50Z" fill="orange" fill-opacity="0.8"/><path d="M69.00,1234.80L69.00,1206.52A28.27,28.27 0 0 0 49.01,1214.81Z" fill="yellow" fill-opacity="0.8"/><path d="M69.00,1234.80L56.25,1222.05A18.04,18.04 0 0 0 50.96,1234.80Z" fill="green" fill-opacity="0.8"/><path d="M69.00,1234.80L51.45,1234.80A17.55,17.55 0 0 0 56.59,1247.21Z" fill="blue" fill-opacity="0.8"/><path d="M69.00,1234.80L37.98,1265.82A43.88,43.88 0 0 0 69.00,1278.67Z" fill="purple" fill-opacity="0.8"/><path d="M69.00,1234.80L69.00,1269.41A34.61,34.61 0 0 0 93.47,1259.27Z" fill="pink" fill-opacity="0.8"/><path d="M69.00,1234.80L94.51,1260.31A36.08,36.08 0 0 0 105.08,1234.80Z" fill="gray" fill-opacity="0.8"/><line x1="20.25" y1="1234.80" x2="117.75" y2="1234.80" stroke="#b0b0b0" stroke-width="1.3" stroke-opacity="0.85"/><line x1="34.53" y1="1269.27" x2="103.47" y2="1200.33" stroke="#b0b0b0" stroke-width="1.3" stroke-opacity="0.85"/><line x1="69.00" y1="1283.55" x2="69.00" y2="1186.05" stroke="#b0b0b0" stroke-width="1.3" stroke-opacity="0.85"/><line x1="103.47" y1="1269.27" x2="34.53" y2="1200.33" stroke="#b0b0b0" stroke-width="1.3" stroke-opacity="0.85"/><circle cx="69.00" cy="1234.80" r="48.75" fill="none" stroke="#2e2e2e" stroke-width="1.7"/>
<path d="M176.80,1234.80L223.11,1234.80A46.31,46.31 0 0 0 209.55,1202.05Z" fill="red" fill-opacity="0.8"/><path d="M176.80,1234.80L210.93,1200.67A48.26,48.26 0 0 0 176.80,1186.54Z" fill="orange" fill-opacity="0.8"/><path d="M176.80,1234.80L176.80,1186.54A48.26,48.26 0 0 0 142.67,1200.67Z" fill="yellow" fill-opacity="0.8"/><path d="M176.80,1234.80L152.33,1210.33A34.61,34.61 0 0 0 142.19,1234.80Z" fill="green" fill-opacity="0.8"/><path d="M176.80,1234.80L168.03,1234.80A8.78,8.78 0 0 0 170.60,1241.00Z" fill="blue" fill-opacity="0.8"/><path d="M176.80,1234.80L161.29,1250.31A21.94,21.94 0 0 0 176.80,1256.74Z" fill="purple" fill-opacity="0.8"/><path d="M176.80,1234.80L176.80,1281.11A46.31,46.31 0 0 0 209.55,1267.55Z" fill="pink" fill-opacity="0.8"/><path d="M176.80,1234.80L209.55,1267.55A46.31,46.31 0 0 0 223.11,1234.80Z" fill="gray" fill-opacity="0.8"/><circle cx="176.80" cy="1234.80" r="29.74" fill="none" stroke="#b0b0b0" stroke-width="1.3" stroke-opacity="0.85"/><line x1="128.05" y1="1234.80" x2="225.55" y2="1234.80" stroke="#b0b0b0" stroke-width="1.3" stroke-opacity="0.85"/><line x1="142.33" y1="1269.27" x2="211.27" y2="1200.33" stroke="#b0b0b0" stroke-width="1.3" stroke-opacity="0.85"/><line x1="176.80" y1="1283.55" x2="176.80" y2="1186.05" stroke="#b0b0b0" stroke-width="1.3" stroke-opacity="0.85"/><line x1="211.27" y1="1269.27" x2="142.33" y2="1200.33" stroke="#b0b0b0" stroke-width="1.3" stroke-opacity="0.85"/><circle cx="176.80" cy="1234.80" r="48.75" fill="none" stroke="#2e2e2e" stroke-width="1.7"/>
<path d="M284.60,1234.80L330.91,1234.80A46.31,46.31 0 0 0 317.35,1202.05Z" fill="red" fill-opacity="0.8"/><circle cx="284.60" cy="1234.80" r="31.69" fill="none" stroke="#b0b0b0" stroke-width="1.3" stroke-opacity="0.85"/><line x1="235.85" y1="1234.80" x2="333.35" y2="1234.80" stroke="#b0b0b0" stroke-width="1.3" stroke-opacity="0.85"/><line x1="250.13" y1="1269.27" x2="319.07" y2="1200.33" stroke="#b0b0b0" stroke-width="1.3" stroke-opacity="0.85"/><line x1="284.60" y1="1283.55" x2="284.60" y2="1186.05" stroke="#b0b0b0" stroke-width="1.3" stroke-opacity="0.85"/><line x1="319.07" y1="1269.27" x2="250.13" y2="1200.33" stroke="#b0b0b0" stroke-width="1.3" stroke-opacity="0.85"/><circle cx="284.60" cy="1234.80" r="48.75" fill="none" stroke="#2e2e2e" stroke-width="1.7"/>
<path d="M392.40,1234.80L422.62,1234.80A30.23,30.23 0 0 0 413.77,1213.43Z" fill="red" fill-opacity="0.8"/><path d="M392.40,1234.80L426.53,1200.67A48.26,48.26 0 0 0 392.40,1186.54Z" fill="orange" fill-opacity="0.8"/><path d="M392.40,1234.80L392.40,1210.42A24.38,24.38 0 0 0 375.16,1217.56Z" fill="yellow" fill-opacity="0.8"/><path d="M392.40,1234.80L387.52,1234.80A4.88,4.88 0 0 0 388.95,1238.25Z" fill="blue" fill-opacity="0.8"/><path d="M392.40,1234.80L372.06,1255.14A28.76,28.76 0 0 0 392.40,1263.56Z" fill="purple" fill-opacity="0.8"/><path d="M392.40,1234.80L392.40,1270.88A36.08,36.08 0 0 0 417.91,1260.31Z" fill="pink" fill-opacity="0.8"/><path d="M392.40,1234.80L413.77,1256.17A30.23,30.23 0 0 0 422.62,1234.80Z" fill="gray" fill-opacity="0.8"/><circle cx="392.40" cy="1234.80" r="39.00" fill="none" stroke="#b0b0b0" stroke-width="1.3" stroke-opacity="0.85"/><line x1="343.65" y1="1234.80" x2="441.15" y2="1234.80" stroke="#b0b0b0" stroke-width="1.3" stroke-opacity="0.85"/><line x1="357.93" y1="1269.27" x2="426.87" y2="1200.33" stroke="#b0b0b0" stroke-width="1.3" stroke-opacity="0.85"/><line x1="392.40" y1="1283.55" x2="392.40" y2="1186.05" stroke="#b0b0b0" stroke-width="1.3" stroke-opacity="0.85"/><line x1="426.87" y1="1269.27" x2="357.93" y2="1200.33" stroke="#b0b0b0" stroke-width="1.3" stroke-opacity="0.85"/><circle cx="392.40" cy="1234.80" r="48.75" fill="none" stroke="#2e2e2e" stroke-width="1.7"/>
<path d="M500.20,1234.80L546.51,1234.80A46.31,46.31 0 0 0 532.95,1202.05Z" fill="red" fill-opacity="0.8"/><path d="M500.20,1234.80L529.85,1264.45A41.92,41.92 0 0 0 542.12,1234.80Z" fill="gray" fill-opacity="0.8"/><circle cx="500.20" cy="1234.80" r="33.64" fill="none" stroke="#b0b0b0" stroke-width="1.3" stroke-opacity="0.85"/><line x1="451.45" y1="1234.80" x2="548.95" y2="1234.80" stroke="#b0b0b0" stroke-width="1.3" stroke-opacity="0.85"/><line x1="465.73" y1="1269.27" x2="534.67" y2="1200.33" stroke="#b0b0b0" stroke-width="1.3" stroke-opacity="0.85"/><line x1="500.20" y1="1283.55" x2="500.20" y2="1186.05" stroke="#b0b0b0" stroke-width="1.3" stroke-opacity="0.85"/><line x1="534.67" y1="1269.27" x2="465.73" y2="1200.33" stroke="#b0b0b0" stroke-width="1.3" stroke-opacity="0.85"/><circle cx="500.20" cy="1234.80" r="48.75" fill="none" stroke="#2e2e2e" stroke-width="1.7"/>
<path d="M608.00,1234.80L654.31,1234.80A46.31,46.31 0 0 0 640.75,1202.05Z" fill="red" fill-opacity="0.8"/><path d="M608.00,1234.80L608.00,1240.65A5.85,5.85 0 0 0 612.14,1238.94Z" fill="pink" fill-opacity="0.8"/><path d="M608.00,1234.80L640.06,1266.86A45.34,45.34 0 0 0 653.34,1234.80Z" fill="gray" fill-opacity="0.8"/><circle cx="608.00" cy="1234.80" r="39.00" fill="none" stroke="#b0b0b0" stroke-width="1.3" stroke-opacity="0.85"/><line x1="559.25" y1="1234.80" x2="656.75" y2="1234.80" stroke="#b0b0b0" stroke-width="1.3" stroke-opacity="0.85"/><line x1="573.53" y1="1269.27" x2="642.47" y2="1200.33" stroke="#b0b0b0" stroke-width="1.3" stroke-opacity="0.85"/><line x1="608.00" y1="1283.55" x2="608.00" y2="1186.05" stroke="#b0b0b0" stroke-width="1.3" stroke-opacity="0.85"/><line x1="642.47" y1="1269.27" x2="573.53" y2="1200.33" stroke="#b0b0b0" stroke-width="1.3" stroke-opacity="0.85"/><circle cx="608.00" cy="1234.80" r="48.75" fill="none" stroke="#2e2e2e" stroke-width="1.7"/>
</g>
<g><text x="338.5" y="24.4" font-size="22" text-anchor="middle" fill="#000">Train</text><text x="69.00" y="51.80" font-size="15.6" text-anchor="middle" textLength="78.05" lengthAdjust="spacingAndGlyphs" fill="#262626" stroke="#262626" stroke-width="0.1">aeroplane</text><text x="176.80" y="51.80" font-size="15.6" text-anchor="middle" textLength="54.55" lengthAdjust="spacingAndGlyphs" fill="#262626" stroke="#262626" stroke-width="0.1">bicycle</text><text x="284.60" y="51.80" font-size="15.6" text-anchor="middle" textLength="30.28" lengthAdjust="spacingAndGlyphs" fill="#262626" stroke="#262626" stroke-width="0.1">bird</text><text x="392.40" y="51.80" font-size="15.6" text-anchor="middle" textLength="35.12" lengthAdjust="spacingAndGlyphs" fill="#262626" stroke="#262626" stroke-width="0.1">boat</text><text x="500.20" y="51.80" font-size="15.6" text-anchor="middle" textLength="45.61" lengthAdjust="spacingAndGlyphs" fill="#262626" stroke="#262626" stroke-width="0.1">bottle</text><text x="608.00" y="51.80" font-size="15.6" text-anchor="middle" textLength="27.92" lengthAdjust="spacingAndGlyphs" fill="#262626" stroke="#262626" stroke-width="0.1">bus</text><text x="69.00" y="181.20" font-size="15.6" text-anchor="middle" textLength="24.55" lengthAdjust="spacingAndGlyphs" fill="#262626" stroke="#262626" stroke-width="0.1">car</text><text x="176.80" y="181.20" font-size="15.6" text-anchor="middle" textLength="24.25" lengthAdjust="spacingAndGlyphs" fill="#262626" stroke="#262626" stroke-width="0.1">cat</text><text x="284.60" y="181.20" font-size="15.6" text-anchor="middle" textLength="38.77" lengthAdjust="spacingAndGlyphs" fill="#262626" stroke="#262626" stroke-width="0.1">chair</text><text x="392.40" y="181.20" font-size="15.6" text-anchor="middle" textLength="30.88" lengthAdjust="spacingAndGlyphs" fill="#262626" stroke="#262626" stroke-width="0.1">cow</text><text x="500.20" y="181.20" font-size="15.6" text-anchor="middle" textLength="29.35" lengthAdjust="spacingAndGlyphs" fill="#262626" stroke="#262626" stroke-width="0.1">dog</text><text x="608.00" y="181.20" font-size="15.6" text-anchor="middle" textLength="43.57" lengthAdjust="spacingAndGlyphs" fill="#262626" stroke="#262626" stroke-width="0.1">horse</text><text x="69.00" y="310.20" font-size="15.6" text-anchor="middle" textLength="79.13" lengthAdjust="spacingAndGlyphs" fill="#262626" stroke="#262626" stroke-width="0.1">motorbike</text><text x="176.80" y="310.20" font-size="15.6" text-anchor="middle" textLength="53.47" lengthAdjust="spacingAndGlyphs" fill="#262626" stroke="#262626" stroke-width="0.1">person</text><text x="284.60" y="310.20" font-size="15.6" text-anchor="middle" textLength="90.98" lengthAdjust="spacingAndGlyphs" fill="#262626" stroke="#262626" stroke-width="0.1">pottedplant</text><text x="392.40" y="310.20" font-size="15.6" text-anchor="middle" textLength="47.11" lengthAdjust="spacingAndGlyphs" fill="#262626" stroke="#262626" stroke-width="0.1">sheep</text><text x="500.20" y="310.20" font-size="15.6" text-anchor="middle" textLength="36.31" lengthAdjust="spacingAndGlyphs" fill="#262626" stroke="#262626" stroke-width="0.1">train</text><text x="608.00" y="310.20" font-size="15.6" text-anchor="middle" textLength="76.39" lengthAdjust="spacingAndGlyphs" fill="#262626" stroke="#262626" stroke-width="0.1">tvmonitor</text><text x="338.5" y="455.8" font-size="22" text-anchor="middle" fill="#000">Val</text><text x="69.00" y="484.40" font-size="15.6" text-anchor="middle" textLength="78.05" lengthAdjust="spacingAndGlyphs" fill="#262626" stroke="#262626" stroke-width="0.1">aeroplane</text><text x="176.80" y="484.40" font-size="15.6" text-anchor="middle" textLength="54.55" lengthAdjust="spacingAndGlyphs" fill="#262626" stroke="#262626" stroke-width="0.1">bicycle</text><text x="284.60" y="484.40" font-size="15.6" text-anchor="middle" textLength="30.28" lengthAdjust="spacingAndGlyphs" fill="#262626" stroke="#262626" stroke-width="0.1">bird</text><text x="392.40" y="484.40" font-size="15.6" text-anchor="middle" textLength="35.12" lengthAdjust="spacingAndGlyphs" fill="#262626" stroke="#262626" stroke-width="0.1">boat</text><text x="500.20" y="484.40" font-size="15.6" text-anchor="middle" textLength="45.61" lengthAdjust="spacingAndGlyphs" fill="#262626" stroke="#262626" stroke-width="0.1">bottle</text><text x="608.00" y="484.40" font-size="15.6" text-anchor="middle" textLength="27.92" lengthAdjust="spacingAndGlyphs" fill="#262626" stroke="#262626" stroke-width="0.1">bus</text><text x="69.00" y="613.80" font-size="15.6" text-anchor="middle" textLength="24.55" lengthAdjust="spacingAndGlyphs" fill="#262626" stroke="#262626" stroke-width="0.1">car</text><text x="176.80" y="613.80" font-size="15.6" text-anchor="middle" textLength="24.25" lengthAdjust="spacingAndGlyphs" fill="#262626" stroke="#262626" stroke-width="0.1">cat</text><text x="284.60" y="613.80" font-size="15.6" text-anchor="middle" textLength="38.77" lengthAdjust="spacingAndGlyphs" fill="#262626" stroke="#262626" stroke-width="0.1">chair</text><text x="392.40" y="613.80" font-size="15.6" text-anchor="middle" textLength="30.88" lengthAdjust="spacingAndGlyphs" fill="#262626" stroke="#262626" stroke-width="0.1">cow</text><text x="500.20" y="613.80" font-size="15.6" text-anchor="middle" textLength="29.35" lengthAdjust="spacingAndGlyphs" fill="#262626" stroke="#262626" stroke-width="0.1">dog</text><text x="608.00" y="613.80" font-size="15.6" text-anchor="middle" textLength="43.57" lengthAdjust="spacingAndGlyphs" fill="#262626" stroke="#262626" stroke-width="0.1">horse</text><text x="69.00" y="743.00" font-size="15.6" text-anchor="middle" textLength="79.13" lengthAdjust="spacingAndGlyphs" fill="#262626" stroke="#262626" stroke-width="0.1">motorbike</text><text x="176.80" y="743.00" font-size="15.6" text-anchor="middle" textLength="53.47" lengthAdjust="spacingAndGlyphs" fill="#262626" stroke="#262626" stroke-width="0.1">person</text><text x="284.60" y="743.00" font-size="15.6" text-anchor="middle" textLength="90.98" lengthAdjust="spacingAndGlyphs" fill="#262626" stroke="#262626" stroke-width="0.1">pottedplant</text><text x="392.40" y="743.00" font-size="15.6" text-anchor="middle" textLength="47.11" lengthAdjust="spacingAndGlyphs" fill="#262626" stroke="#262626" stroke-width="0.1">sheep</text><text x="500.20" y="743.00" font-size="15.6" text-anchor="middle" textLength="36.31" lengthAdjust="spacingAndGlyphs" fill="#262626" stroke="#262626" stroke-width="0.1">train</text><text x="608.00" y="743.00" font-size="15.6" text-anchor="middle" textLength="76.39" lengthAdjust="spacingAndGlyphs" fill="#262626" stroke="#262626" stroke-width="0.1">tvmonitor</text><text x="338.5" y="890" font-size="22" text-anchor="middle" fill="#000">Test</text><text x="69.00" y="918.40" font-size="15.6" text-anchor="middle" textLength="78.05" lengthAdjust="spacingAndGlyphs" fill="#262626" stroke="#262626" stroke-width="0.1">aeroplane</text><text x="176.80" y="918.40" font-size="15.6" text-anchor="middle" textLength="54.55" lengthAdjust="spacingAndGlyphs" fill="#262626" stroke="#262626" stroke-width="0.1">bicycle</text><text x="284.60" y="918.40" font-size="15.6" text-anchor="middle" textLength="30.28" lengthAdjust="spacingAndGlyphs" fill="#262626" stroke="#262626" stroke-width="0.1">bird</text><text x="392.40" y="918.40" font-size="15.6" text-anchor="middle" textLength="35.12" lengthAdjust="spacingAndGlyphs" fill="#262626" stroke="#262626" stroke-width="0.1">boat</text><text x="500.20" y="918.40" font-size="15.6" text-anchor="middle" textLength="45.61" lengthAdjust="spacingAndGlyphs" fill="#262626" stroke="#262626" stroke-width="0.1">bottle</text><text x="608.00" y="918.40" font-size="15.6" text-anchor="middle" textLength="27.92" lengthAdjust="spacingAndGlyphs" fill="#262626" stroke="#262626" stroke-width="0.1">bus</text><text x="69.00" y="1047.40" font-size="15.6" text-anchor="middle" textLength="24.55" lengthAdjust="spacingAndGlyphs" fill="#262626" stroke="#262626" stroke-width="0.1">car</text><text x="176.80" y="1047.40" font-size="15.6" text-anchor="middle" textLength="24.25" lengthAdjust="spacingAndGlyphs" fill="#262626" stroke="#262626" stroke-width="0.1">cat</text><text x="284.60" y="1047.40" font-size="15.6" text-anchor="middle" textLength="38.77" lengthAdjust="spacingAndGlyphs" fill="#262626" stroke="#262626" stroke-width="0.1">chair</text><text x="392.40" y="1047.40" font-size="15.6" text-anchor="middle" textLength="30.88" lengthAdjust="spacingAndGlyphs" fill="#262626" stroke="#262626" stroke-width="0.1">cow</text><text x="500.20" y="1047.40" font-size="15.6" text-anchor="middle" textLength="29.35" lengthAdjust="spacingAndGlyphs" fill="#262626" stroke="#262626" stroke-width="0.1">dog</text><text x="608.00" y="1047.40" font-size="15.6" text-anchor="middle" textLength="43.57" lengthAdjust="spacingAndGlyphs" fill="#262626" stroke="#262626" stroke-width="0.1">horse</text><text x="69.00" y="1176.60" font-size="15.6" text-anchor="middle" textLength="79.13" lengthAdjust="spacingAndGlyphs" fill="#262626" stroke="#262626" stroke-width="0.1">motorbike</text><text x="176.80" y="1176.60" font-size="15.6" text-anchor="middle" textLength="53.47" lengthAdjust="spacingAndGlyphs" fill="#262626" stroke="#262626" stroke-width="0.1">person</text><text x="284.60" y="1176.60" font-size="15.6" text-anchor="middle" textLength="90.98" lengthAdjust="spacingAndGlyphs" fill="#262626" stroke="#262626" stroke-width="0.1">pottedplant</text><text x="392.40" y="1176.60" font-size="15.6" text-anchor="middle" textLength="47.11" lengthAdjust="spacingAndGlyphs" fill="#262626" stroke="#262626" stroke-width="0.1">sheep</text><text x="500.20" y="1176.60" font-size="15.6" text-anchor="middle" textLength="36.31" lengthAdjust="spacingAndGlyphs" fill="#262626" stroke="#262626" stroke-width="0.1">train</text><text x="608.00" y="1176.60" font-size="15.6" text-anchor="middle" textLength="76.39" lengthAdjust="spacingAndGlyphs" fill="#262626" stroke="#262626" stroke-width="0.1">tvmonitor</text></g>
</svg></body></html>
